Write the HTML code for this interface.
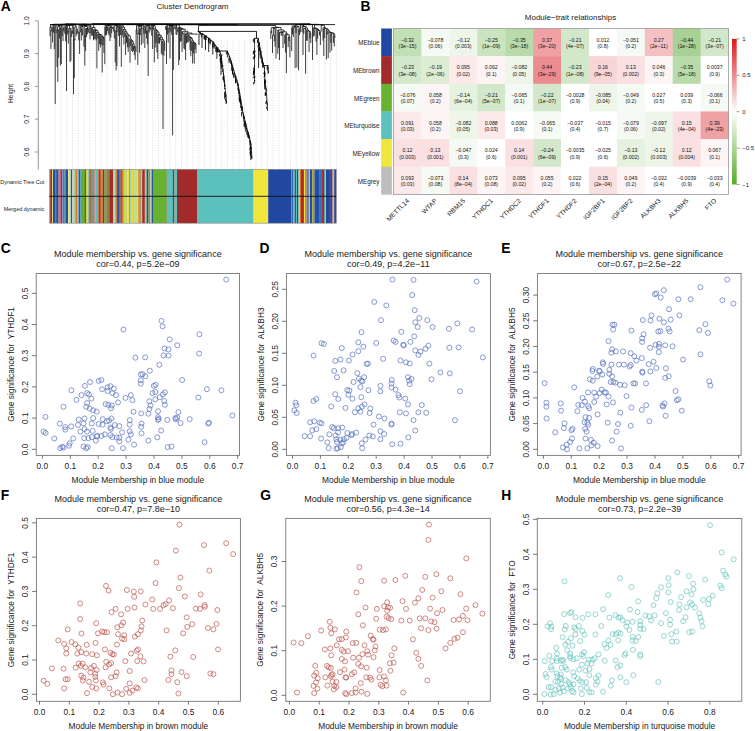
<!DOCTYPE html>
<html><head><meta charset="utf-8"><style>
html,body{margin:0;padding:0;background:#fff;}
svg{display:block;}
</style></head><body>
<svg width="755" height="731" viewBox="0 0 755 731" font-family="Liberation Sans, sans-serif">
<rect width="755" height="731" fill="#fff"/>
<text x="0.80" y="10.90" font-size="13.8" text-anchor="start" font-weight="bold" fill="#000">A</text>
<text x="360.50" y="11.00" font-size="13.8" text-anchor="start" font-weight="bold" fill="#000">B</text>
<text x="192.50" y="9.00" font-size="8" text-anchor="middle" fill="#222">Cluster Dendrogram</text>
<line x1="38.3" y1="20.8" x2="38.3" y2="169.5" stroke="#666" stroke-width="0.7"/>
<line x1="34.8" y1="20.80" x2="38.3" y2="20.80" stroke="#777" stroke-width="0.7"/>
<text x="29.20" y="20.80" font-size="6.6" text-anchor="middle" fill="#222" transform="rotate(-90 29.20 20.80)">1.0</text>
<line x1="34.8" y1="53.60" x2="38.3" y2="53.60" stroke="#777" stroke-width="0.7"/>
<text x="29.20" y="53.60" font-size="6.6" text-anchor="middle" fill="#222" transform="rotate(-90 29.20 53.60)">0.9</text>
<line x1="34.8" y1="86.40" x2="38.3" y2="86.40" stroke="#777" stroke-width="0.7"/>
<text x="29.20" y="86.40" font-size="6.6" text-anchor="middle" fill="#222" transform="rotate(-90 29.20 86.40)">0.8</text>
<line x1="34.8" y1="119.20" x2="38.3" y2="119.20" stroke="#777" stroke-width="0.7"/>
<text x="29.20" y="119.20" font-size="6.6" text-anchor="middle" fill="#222" transform="rotate(-90 29.20 119.20)">0.7</text>
<line x1="34.8" y1="152.00" x2="38.3" y2="152.00" stroke="#777" stroke-width="0.7"/>
<text x="29.20" y="152.00" font-size="6.6" text-anchor="middle" fill="#222" transform="rotate(-90 29.20 152.00)">0.6</text>
<text x="13.50" y="93.40" font-size="6.6" text-anchor="middle" fill="#222" transform="rotate(-90 13.50 93.40)">Height</text>
<line x1="55.30" y1="40" x2="55.30" y2="169" stroke="#c4c4c4" stroke-width="0.5" stroke-dasharray="1.3,1.2"/>
<line x1="61.03" y1="40" x2="61.03" y2="169" stroke="#c4c4c4" stroke-width="0.5" stroke-dasharray="1.3,1.2"/>
<line x1="66.77" y1="40" x2="66.77" y2="169" stroke="#c4c4c4" stroke-width="0.5" stroke-dasharray="1.3,1.2"/>
<line x1="72.50" y1="40" x2="72.50" y2="169" stroke="#c4c4c4" stroke-width="0.5" stroke-dasharray="1.3,1.2"/>
<line x1="78.24" y1="40" x2="78.24" y2="169" stroke="#c4c4c4" stroke-width="0.5" stroke-dasharray="1.3,1.2"/>
<line x1="83.97" y1="40" x2="83.97" y2="169" stroke="#c4c4c4" stroke-width="0.5" stroke-dasharray="1.3,1.2"/>
<line x1="89.71" y1="40" x2="89.71" y2="169" stroke="#c4c4c4" stroke-width="0.5" stroke-dasharray="1.3,1.2"/>
<line x1="95.44" y1="40" x2="95.44" y2="169" stroke="#c4c4c4" stroke-width="0.5" stroke-dasharray="1.3,1.2"/>
<line x1="101.18" y1="40" x2="101.18" y2="169" stroke="#c4c4c4" stroke-width="0.5" stroke-dasharray="1.3,1.2"/>
<line x1="106.91" y1="40" x2="106.91" y2="169" stroke="#c4c4c4" stroke-width="0.5" stroke-dasharray="1.3,1.2"/>
<line x1="112.65" y1="40" x2="112.65" y2="169" stroke="#c4c4c4" stroke-width="0.5" stroke-dasharray="1.3,1.2"/>
<line x1="118.38" y1="40" x2="118.38" y2="169" stroke="#c4c4c4" stroke-width="0.5" stroke-dasharray="1.3,1.2"/>
<line x1="124.12" y1="40" x2="124.12" y2="169" stroke="#c4c4c4" stroke-width="0.5" stroke-dasharray="1.3,1.2"/>
<line x1="129.86" y1="40" x2="129.86" y2="169" stroke="#c4c4c4" stroke-width="0.5" stroke-dasharray="1.3,1.2"/>
<line x1="135.59" y1="40" x2="135.59" y2="169" stroke="#c4c4c4" stroke-width="0.5" stroke-dasharray="1.3,1.2"/>
<line x1="141.32" y1="40" x2="141.32" y2="169" stroke="#c4c4c4" stroke-width="0.5" stroke-dasharray="1.3,1.2"/>
<line x1="147.06" y1="40" x2="147.06" y2="169" stroke="#c4c4c4" stroke-width="0.5" stroke-dasharray="1.3,1.2"/>
<line x1="152.80" y1="40" x2="152.80" y2="169" stroke="#c4c4c4" stroke-width="0.5" stroke-dasharray="1.3,1.2"/>
<line x1="158.53" y1="40" x2="158.53" y2="169" stroke="#c4c4c4" stroke-width="0.5" stroke-dasharray="1.3,1.2"/>
<line x1="164.26" y1="40" x2="164.26" y2="169" stroke="#c4c4c4" stroke-width="0.5" stroke-dasharray="1.3,1.2"/>
<line x1="170.00" y1="40" x2="170.00" y2="169" stroke="#c4c4c4" stroke-width="0.5" stroke-dasharray="1.3,1.2"/>
<line x1="175.74" y1="40" x2="175.74" y2="169" stroke="#c4c4c4" stroke-width="0.5" stroke-dasharray="1.3,1.2"/>
<line x1="181.47" y1="40" x2="181.47" y2="169" stroke="#c4c4c4" stroke-width="0.5" stroke-dasharray="1.3,1.2"/>
<line x1="187.20" y1="40" x2="187.20" y2="169" stroke="#c4c4c4" stroke-width="0.5" stroke-dasharray="1.3,1.2"/>
<line x1="192.94" y1="40" x2="192.94" y2="169" stroke="#c4c4c4" stroke-width="0.5" stroke-dasharray="1.3,1.2"/>
<line x1="198.68" y1="40" x2="198.68" y2="169" stroke="#c4c4c4" stroke-width="0.5" stroke-dasharray="1.3,1.2"/>
<line x1="204.41" y1="40" x2="204.41" y2="169" stroke="#c4c4c4" stroke-width="0.5" stroke-dasharray="1.3,1.2"/>
<line x1="210.14" y1="40" x2="210.14" y2="169" stroke="#c4c4c4" stroke-width="0.5" stroke-dasharray="1.3,1.2"/>
<line x1="215.88" y1="40" x2="215.88" y2="169" stroke="#c4c4c4" stroke-width="0.5" stroke-dasharray="1.3,1.2"/>
<line x1="221.62" y1="40" x2="221.62" y2="169" stroke="#c4c4c4" stroke-width="0.5" stroke-dasharray="1.3,1.2"/>
<line x1="227.35" y1="40" x2="227.35" y2="169" stroke="#c4c4c4" stroke-width="0.5" stroke-dasharray="1.3,1.2"/>
<line x1="233.08" y1="40" x2="233.08" y2="169" stroke="#c4c4c4" stroke-width="0.5" stroke-dasharray="1.3,1.2"/>
<line x1="238.82" y1="40" x2="238.82" y2="169" stroke="#c4c4c4" stroke-width="0.5" stroke-dasharray="1.3,1.2"/>
<line x1="244.56" y1="40" x2="244.56" y2="169" stroke="#c4c4c4" stroke-width="0.5" stroke-dasharray="1.3,1.2"/>
<line x1="250.29" y1="40" x2="250.29" y2="169" stroke="#c4c4c4" stroke-width="0.5" stroke-dasharray="1.3,1.2"/>
<line x1="256.03" y1="40" x2="256.03" y2="169" stroke="#c4c4c4" stroke-width="0.5" stroke-dasharray="1.3,1.2"/>
<line x1="261.76" y1="40" x2="261.76" y2="169" stroke="#c4c4c4" stroke-width="0.5" stroke-dasharray="1.3,1.2"/>
<line x1="267.50" y1="40" x2="267.50" y2="169" stroke="#c4c4c4" stroke-width="0.5" stroke-dasharray="1.3,1.2"/>
<line x1="273.23" y1="40" x2="273.23" y2="169" stroke="#c4c4c4" stroke-width="0.5" stroke-dasharray="1.3,1.2"/>
<line x1="278.97" y1="40" x2="278.97" y2="169" stroke="#c4c4c4" stroke-width="0.5" stroke-dasharray="1.3,1.2"/>
<line x1="284.70" y1="40" x2="284.70" y2="169" stroke="#c4c4c4" stroke-width="0.5" stroke-dasharray="1.3,1.2"/>
<line x1="290.44" y1="40" x2="290.44" y2="169" stroke="#c4c4c4" stroke-width="0.5" stroke-dasharray="1.3,1.2"/>
<line x1="296.17" y1="40" x2="296.17" y2="169" stroke="#c4c4c4" stroke-width="0.5" stroke-dasharray="1.3,1.2"/>
<line x1="301.91" y1="40" x2="301.91" y2="169" stroke="#c4c4c4" stroke-width="0.5" stroke-dasharray="1.3,1.2"/>
<line x1="307.64" y1="40" x2="307.64" y2="169" stroke="#c4c4c4" stroke-width="0.5" stroke-dasharray="1.3,1.2"/>
<line x1="313.38" y1="40" x2="313.38" y2="169" stroke="#c4c4c4" stroke-width="0.5" stroke-dasharray="1.3,1.2"/>
<line x1="319.11" y1="40" x2="319.11" y2="169" stroke="#c4c4c4" stroke-width="0.5" stroke-dasharray="1.3,1.2"/>
<line x1="324.85" y1="40" x2="324.85" y2="169" stroke="#c4c4c4" stroke-width="0.5" stroke-dasharray="1.3,1.2"/>
<line x1="330.58" y1="40" x2="330.58" y2="169" stroke="#c4c4c4" stroke-width="0.5" stroke-dasharray="1.3,1.2"/>
<line x1="336.32" y1="40" x2="336.32" y2="169" stroke="#c4c4c4" stroke-width="0.5" stroke-dasharray="1.3,1.2"/>
<path d="M50.9 30.4L51.7 30.4M50.9 30.4L50.9 49.0M51.7 30.4L51.7 31.4M50.0 27.0L51.3 27.0M50.0 27.0L50.0 36.0M51.3 27.0L51.3 30.4M52.6 27.2L53.5 27.2M52.6 27.2L52.6 42.5M53.5 27.2L53.5 32.7M53.0 25.3L54.3 25.3M53.0 25.3L53.0 27.2M54.3 25.3L54.3 49.2M50.7 24.7L53.7 24.7M50.7 24.7L50.7 27.0M53.7 24.7L53.7 25.3M52.2 24.6L55.2 24.6M52.2 24.6L52.2 24.7M55.2 24.6L55.2 104.0M57.8 29.9L58.7 29.9M57.8 29.9L57.8 82.0M58.7 29.9L58.7 57.8M57.0 29.9L58.3 29.9M57.0 29.9L57.0 66.9M58.3 29.9L58.3 29.9M59.6 27.7L60.4 27.7M59.6 27.7L59.6 38.5M60.4 27.7L60.4 65.6M57.6 26.7L60.0 26.7M57.6 26.7L57.6 29.9M60.0 26.7L60.0 27.7M58.8 25.7L61.3 25.7M58.8 25.7L58.8 26.7M61.3 25.7L61.3 64.0M56.1 25.2L60.1 25.2M56.1 25.2L56.1 33.1M60.1 25.2L60.1 25.7M58.1 25.0L62.2 25.0M58.1 25.0L58.1 25.2M62.2 25.0L62.2 36.2M63.0 29.1L63.9 29.1M63.0 29.1L63.0 41.2M63.9 29.1L63.9 31.3M63.5 27.8L64.8 27.8M63.5 27.8L63.5 29.1M64.8 27.8L64.8 33.9M60.1 24.8L64.1 24.8M60.1 24.8L60.1 25.0M64.1 24.8L64.1 27.8M65.6 24.9L66.5 24.9M65.6 24.9L65.6 41.2M66.5 24.9L66.5 91.0M68.3 31.5L69.1 31.5M68.3 31.5L68.3 43.7M69.1 31.5L69.1 32.5M70.0 28.9L70.9 28.9M70.0 28.9L70.0 62.1M70.9 28.9L70.9 60.8M68.7 28.6L70.4 28.6M68.7 28.6L68.7 31.5M70.4 28.6L70.4 28.9M67.4 25.4L69.6 25.4M67.4 25.4L67.4 34.5M69.6 25.4L69.6 28.6M71.7 31.2L72.6 31.2M71.7 31.2L71.7 36.9M72.6 31.2L72.6 33.9M72.2 26.9L73.5 26.9M72.2 26.9L72.2 31.2M73.5 26.9L73.5 94.3M68.5 25.1L72.8 25.1M68.5 25.1L68.5 25.4M72.8 25.1L72.8 26.9M74.3 39.2L75.2 39.2M74.3 39.2L74.3 78.1M75.2 39.2L75.2 40.3M76.9 31.1L77.8 31.1M76.9 31.1L76.9 34.4M77.8 31.1L77.8 33.5M76.1 29.3L77.4 29.3M76.1 29.3L76.1 36.4M77.4 29.3L77.4 31.1M74.8 26.8L76.7 26.8M74.8 26.8L74.8 39.2M76.7 26.8L76.7 29.3M70.6 25.1L75.8 25.1M70.6 25.1L70.6 25.1M75.8 25.1L75.8 26.8M66.1 24.9L73.2 24.9M66.1 24.9L66.1 24.9M73.2 24.9L73.2 25.1M62.1 24.3L69.6 24.3M62.1 24.3L62.1 24.8M69.6 24.3L69.6 24.9M78.7 32.3L79.6 32.3M78.7 32.3L78.7 40.3M79.6 32.3L79.6 54.0M81.3 29.6L82.2 29.6M81.3 29.6L81.3 40.4M82.2 29.6L82.2 35.3M81.7 26.5L83.0 26.5M81.7 26.5L81.7 29.6M83.0 26.5L83.0 35.7M80.4 25.7L82.4 25.7M80.4 25.7L80.4 32.3M82.4 25.7L82.4 26.5M83.9 35.9L84.8 35.9M83.9 35.9L83.9 46.6M84.8 35.9L84.8 65.6M85.6 28.6L86.5 28.6M85.6 28.6L85.6 50.9M86.5 28.6L86.5 37.1M86.1 28.5L87.4 28.5M86.1 28.5L86.1 28.6M87.4 28.5L87.4 34.3M86.7 28.4L88.2 28.4M86.7 28.4L86.7 28.5M88.2 28.4L88.2 32.5M84.3 26.5L87.5 26.5M84.3 26.5L84.3 35.9M87.5 26.5L87.5 28.4M81.4 25.7L85.9 25.7M81.4 25.7L81.4 25.7M85.9 25.7L85.9 26.5M83.7 25.6L89.1 25.6M83.7 25.6L83.7 25.7M89.1 25.6L89.1 33.1M79.1 25.1L86.4 25.1M79.1 25.1L79.1 32.3M86.4 25.1L86.4 25.6M90.0 25.4L90.9 25.4M90.0 25.4L90.0 39.4M90.9 25.4L90.9 33.6M82.8 24.4L90.4 24.4M82.8 24.4L82.8 25.1M90.4 24.4L90.4 25.4M65.9 24.2L86.6 24.2M65.9 24.2L65.9 24.3M86.6 24.2L86.6 24.4M53.7 24.2L76.2 24.2M53.7 24.2L53.7 24.6M76.2 24.2L76.2 24.2M91.7 27.8L92.6 27.8M91.7 27.8L91.7 36.0M92.6 27.8L92.6 35.5M95.2 32.0L96.1 32.0M95.2 32.0L95.2 39.1M96.1 32.0L96.1 40.3M94.3 30.8L95.6 30.8M94.3 30.8L94.3 39.3M95.6 30.8L95.6 32.0M99.6 36.1L100.4 36.1M99.6 36.1L99.6 44.2M100.4 36.1L100.4 47.5M103.0 38.0L103.9 38.0M103.0 38.0L103.0 45.2M103.9 38.0L103.9 52.9M102.2 36.8L103.5 36.8M102.2 36.8L102.2 72.5M103.5 36.8L103.5 38.0M101.3 36.3L102.8 36.3M101.3 36.3L101.3 44.8M102.8 36.3L102.8 36.8M100.0 34.8L102.0 34.8M100.0 34.8L100.0 36.1M102.0 34.8L102.0 36.3M98.7 34.6L101.0 34.6M98.7 34.6L98.7 50.8M101.0 34.6L101.0 34.8M97.8 34.1L99.8 34.1M97.8 34.1L97.8 38.5M99.8 34.1L99.8 34.6M96.9 32.4L98.8 32.4M96.9 32.4L96.9 68.4M98.8 32.4L98.8 34.1M95.0 30.6L97.9 30.6M95.0 30.6L95.0 30.8M97.9 30.6L97.9 32.4M93.5 29.7L96.4 29.7M93.5 29.7L93.5 40.3M96.4 29.7L96.4 30.6M92.2 27.4L95.0 27.4M92.2 27.4L92.2 27.8M95.0 27.4L95.0 29.7M104.8 27.1L105.6 27.1M104.8 27.1L104.8 64.2M105.6 27.1L105.6 35.4M107.4 27.3L108.2 27.3M107.4 27.3L107.4 31.0M108.2 27.3L108.2 33.6M109.1 29.2L110.0 29.2M109.1 29.2L109.1 35.5M110.0 29.2L110.0 41.0M109.5 27.5L110.9 27.5M109.5 27.5L109.5 29.2M110.9 27.5L110.9 37.6M111.7 27.2L112.6 27.2M111.7 27.2L111.7 33.1M112.6 27.2L112.6 28.8M110.2 27.0L112.2 27.0M110.2 27.0L110.2 27.5M112.2 27.0L112.2 27.2M107.8 25.9L111.2 25.9M107.8 25.9L107.8 27.3M111.2 25.9L111.2 27.0M106.5 25.2L109.5 25.2M106.5 25.2L106.5 35.2M109.5 25.2L109.5 25.9M114.3 30.4L115.2 30.4M114.3 30.4L114.3 38.5M115.2 30.4L115.2 62.5M113.5 27.3L114.8 27.3M113.5 27.3L113.5 31.4M114.8 27.3L114.8 30.4M116.1 31.0L116.9 31.0M116.1 31.0L116.1 70.5M116.9 31.0L116.9 66.2M116.5 26.6L117.8 26.6M116.5 26.6L116.5 31.0M117.8 26.6L117.8 31.9M117.2 26.6L118.7 26.6M117.2 26.6L117.2 26.6M118.7 26.6L118.7 36.0M114.1 25.8L117.9 25.8M114.1 25.8L114.1 27.3M117.9 25.8L117.9 26.6M116.0 25.2L119.5 25.2M116.0 25.2L116.0 25.8M119.5 25.2L119.5 46.5M108.0 24.9L117.8 24.9M108.0 24.9L108.0 25.2M117.8 24.9L117.8 25.2M105.2 24.9L112.9 24.9M105.2 24.9L105.2 27.1M112.9 24.9L112.9 24.9M123.0 29.7L123.9 29.7M123.0 29.7L123.0 37.5M123.9 29.7L123.9 44.6M127.4 37.2L128.2 37.2M127.4 37.2L127.4 47.3M128.2 37.2L128.2 51.9M130.0 41.2L130.8 41.2M130.0 41.2L130.0 62.6M130.8 41.2L130.8 45.8M134.3 46.8L135.2 46.8M134.3 46.8L134.3 55.1M135.2 46.8L135.2 59.8M133.5 46.5L134.8 46.5M133.5 46.5L133.5 50.7M134.8 46.5L134.8 46.8M132.6 43.8L134.1 43.8M132.6 43.8L132.6 52.0M134.1 43.8L134.1 46.5M131.7 41.3L133.3 41.3M131.7 41.3L131.7 51.0M133.3 41.3L133.3 43.8M130.4 40.4L132.5 40.4M130.4 40.4L130.4 41.2M132.5 40.4L132.5 41.3M129.1 39.2L131.5 39.2M129.1 39.2L129.1 47.3M131.5 39.2L131.5 40.4M127.8 35.8L130.3 35.8M127.8 35.8L127.8 37.2M130.3 35.8L130.3 39.2M126.5 34.9L129.0 34.9M126.5 34.9L126.5 43.0M129.0 34.9L129.0 35.8M125.6 33.1L127.8 33.1M125.6 33.1L125.6 55.0M127.8 33.1L127.8 34.9M124.8 31.4L126.7 31.4M124.8 31.4L124.8 36.8M126.7 31.4L126.7 33.1M123.5 29.4L125.7 29.4M123.5 29.4L123.5 29.7M125.7 29.4L125.7 31.4M122.2 27.3L124.6 27.3M122.2 27.3L122.2 35.1M124.6 27.3L124.6 29.4M121.3 25.8L123.4 25.8M121.3 25.8L121.3 66.9M123.4 25.8L123.4 27.3M136.1 29.8L136.9 29.8M136.1 29.8L136.1 52.0M136.9 29.8L136.9 34.3M137.8 33.3L138.7 33.3M137.8 33.3L137.8 64.9M138.7 33.3L138.7 34.3M139.5 28.6L140.4 28.6M139.5 28.6L139.5 52.7M140.4 28.6L140.4 35.2M138.2 26.1L140.0 26.1M138.2 26.1L138.2 33.3M140.0 26.1L140.0 28.6M141.3 27.9L142.1 27.9M141.3 27.9L141.3 45.0M142.1 27.9L142.1 29.1M139.1 25.9L141.7 25.9M139.1 25.9L139.1 26.1M141.7 25.9L141.7 27.9M143.0 28.9L143.9 28.9M143.0 28.9L143.0 43.4M143.9 28.9L143.9 34.2M143.4 26.4L144.8 26.4M143.4 26.4L143.4 28.9M144.8 26.4L144.8 48.0M140.4 25.7L144.1 25.7M140.4 25.7L140.4 25.9M144.1 25.7L144.1 26.4M136.5 25.6L142.3 25.6M136.5 25.6L136.5 29.8M142.3 25.6L142.3 25.7M122.3 24.6L139.4 24.6M122.3 24.6L122.3 25.8M139.4 24.6L139.4 25.6M120.4 24.5L130.9 24.5M120.4 24.5L120.4 35.0M130.9 24.5L130.9 24.6M109.0 24.5L125.6 24.5M109.0 24.5L109.0 24.9M125.6 24.5L125.6 24.5M146.5 31.0L147.4 31.0M146.5 31.0L146.5 38.5M147.4 31.0L147.4 44.3M149.1 28.3L150.0 28.3M149.1 28.3L149.1 32.8M150.0 28.3L150.0 31.3M149.5 27.7L150.8 27.7M149.5 27.7L149.5 28.3M150.8 27.7L150.8 29.2M148.2 26.8L150.2 26.8M148.2 26.8L148.2 76.0M150.2 26.8L150.2 27.7M146.9 25.8L149.2 25.8M146.9 25.8L146.9 31.0M149.2 25.8L149.2 26.8M145.6 25.4L148.1 25.4M145.6 25.4L145.6 33.5M148.1 25.4L148.1 25.8M146.8 25.2L151.7 25.2M146.8 25.2L146.8 25.4M151.7 25.2L151.7 35.7M159.5 37.4L160.4 37.4M159.5 37.4L159.5 43.8M160.4 37.4L160.4 40.5M162.1 42.0L163.0 42.0M162.1 42.0L162.1 55.0M163.0 42.0L163.0 129.0M163.9 43.3L164.7 43.3M163.9 43.3L163.9 55.7M164.7 43.3L164.7 50.8M162.6 41.0L164.3 41.0M162.6 41.0L162.6 42.0M164.3 41.0L164.3 43.3M161.3 39.4L163.4 39.4M161.3 39.4L161.3 53.5M163.4 39.4L163.4 41.0M160.0 37.1L162.4 37.1M160.0 37.1L160.0 37.4M162.4 37.1L162.4 39.4M158.7 35.3L161.2 35.3M158.7 35.3L158.7 43.0M161.2 35.3L161.2 37.1M157.8 34.3L159.9 34.3M157.8 34.3L157.8 59.0M159.9 34.3L159.9 35.3M156.9 32.0L158.9 32.0M156.9 32.0L156.9 52.3M158.9 32.0L158.9 34.3M156.1 30.6L157.9 30.6M156.1 30.6L156.1 43.1M157.9 30.6L157.9 32.0M155.2 30.2L157.0 30.2M155.2 30.2L155.2 47.6M157.0 30.2L157.0 30.6M154.3 28.8L156.1 28.8M154.3 28.8L154.3 62.4M156.1 28.8L156.1 30.2M153.4 25.6L155.2 25.6M153.4 25.6L153.4 29.8M155.2 25.6L155.2 28.8M152.6 25.0L154.3 25.0M152.6 25.0L152.6 49.0M154.3 25.0L154.3 25.6M149.3 24.8L153.4 24.8M149.3 24.8L149.3 25.2M153.4 24.8L153.4 25.0M165.6 26.6L166.5 26.6M165.6 26.6L165.6 29.9M166.5 26.6L166.5 64.0M167.4 27.8L168.2 27.8M167.4 27.8L167.4 34.6M168.2 27.8L168.2 42.6M166.1 26.2L167.8 26.2M166.1 26.2L166.1 26.6M167.8 26.2L167.8 27.8M169.1 28.3L170.0 28.3M169.1 28.3L169.1 32.8M170.0 28.3L170.0 58.4M170.8 26.1L171.7 26.1M170.8 26.1L170.8 31.6M171.7 26.1L171.7 34.7M171.3 25.8L172.6 25.8M171.3 25.8L171.3 26.1M172.6 25.8L172.6 135.4M169.5 25.7L171.9 25.7M169.5 25.7L169.5 28.3M171.9 25.7L171.9 25.8M173.4 27.5L174.3 27.5M173.4 27.5L173.4 69.9M174.3 27.5L174.3 28.5M170.7 25.4L173.9 25.4M170.7 25.4L170.7 25.7M173.9 25.4L173.9 27.5M166.9 25.3L172.3 25.3M166.9 25.3L166.9 26.2M172.3 25.3L172.3 25.4M169.6 25.0L175.2 25.0M169.6 25.0L169.6 25.3M175.2 25.0L175.2 29.7M176.0 26.8L176.9 26.8M176.0 26.8L176.0 34.7M176.9 26.8L176.9 35.1M177.8 28.3L178.7 28.3M177.8 28.3L177.8 32.2M178.7 28.3L178.7 65.0M182.1 32.6L183.0 32.6M182.1 32.6L182.1 52.0M183.0 32.6L183.0 34.4M185.6 35.7L186.5 35.7M185.6 35.7L185.6 60.0M186.5 35.7L186.5 43.5M184.7 34.5L186.0 34.5M184.7 34.5L184.7 49.6M186.0 34.5L186.0 35.7M194.3 43.9L195.2 43.9M194.3 43.9L194.3 63.5M195.2 43.9L195.2 49.3M194.7 43.8L196.0 43.8M194.7 43.8L194.7 43.9M196.0 43.8L196.0 53.2M193.4 42.9L195.4 42.9M193.4 42.9L193.4 53.5M195.4 42.9L195.4 43.8M192.6 42.4L194.4 42.4M192.6 42.4L192.6 63.5M194.4 42.4L194.4 42.9M191.7 40.9L193.5 40.9M191.7 40.9L191.7 51.1M193.5 40.9L193.5 42.4M190.8 38.7L192.6 38.7M190.8 38.7L190.8 56.2M192.6 38.7L192.6 40.9M190.0 37.6L191.7 37.6M190.0 37.6L190.0 50.0M191.7 37.6L191.7 38.7M189.1 37.4L190.8 37.4M189.1 37.4L189.1 40.9M190.8 37.4L190.8 37.6M188.2 36.0L190.0 36.0M188.2 36.0L188.2 42.5M190.0 36.0L190.0 37.4M187.3 35.9L189.1 35.9M187.3 35.9L187.3 42.2M189.1 35.9L189.1 36.0M185.4 34.3L188.2 34.3M185.4 34.3L185.4 34.5M188.2 34.3L188.2 35.9M186.8 34.0L196.9 34.0M186.8 34.0L186.8 34.3M196.9 34.0L196.9 35.0M183.9 33.0L191.9 33.0M183.9 33.0L183.9 48.4M191.9 33.0L191.9 34.0M182.6 31.3L187.9 31.3M182.6 31.3L182.6 32.6M187.9 31.3L187.9 33.0M181.3 29.2L185.2 29.2M181.3 29.2L181.3 40.9M185.2 29.2L185.2 31.3M180.4 28.6L183.2 28.6M180.4 28.6L180.4 41.8M183.2 28.6L183.2 29.2M179.5 28.1L181.8 28.1M179.5 28.1L179.5 60.1M181.8 28.1L181.8 28.6M178.2 27.6L180.7 27.6M178.2 27.6L178.2 28.3M180.7 27.6L180.7 28.1M176.5 24.9L179.4 24.9M176.5 24.9L176.5 26.8M179.4 24.9L179.4 27.6M270.8 31.1L271.7 31.1M270.8 31.1L270.8 39.0M271.7 31.1L271.7 33.7M272.5 35.0L274.3 35.0M272.5 35.0L272.5 53.0M274.3 35.0L274.3 41.3M273.4 28.6L275.1 28.6M273.4 28.6L273.4 35.0M275.1 28.6L275.1 46.7M271.2 27.8L274.3 27.8M271.2 27.8L271.2 31.1M274.3 27.8L274.3 28.6M277.8 30.2L278.6 30.2M277.8 30.2L277.8 53.8M278.6 30.2L278.6 48.1M279.5 32.2L281.2 32.2M279.5 32.2L279.5 60.0M281.2 32.2L281.2 35.8M282.1 32.2L283.0 32.2M282.1 32.2L282.1 35.6M283.0 32.2L283.0 48.0M280.4 32.0L282.5 32.0M280.4 32.0L280.4 32.2M282.5 32.0L282.5 32.2M284.7 35.2L285.6 35.2M284.7 35.2L284.7 43.9M285.6 35.2L285.6 52.6M288.2 37.4L289.1 37.4M288.2 37.4L288.2 47.2M289.1 37.4L289.1 41.1M288.6 36.9L289.9 36.9M288.6 36.9L288.6 37.4M289.9 36.9L289.9 57.4M286.4 34.8L289.3 34.8M286.4 34.8L286.4 73.0M289.3 34.8L289.3 36.9M285.1 33.9L287.9 33.9M285.1 33.9L285.1 35.2M287.9 33.9L287.9 34.8M281.5 31.8L286.5 31.8M281.5 31.8L281.5 32.0M286.5 31.8L286.5 33.9M278.2 30.0L284.0 30.0M278.2 30.0L278.2 30.2M284.0 30.0L284.0 31.8M276.0 27.5L281.1 27.5M276.0 27.5L276.0 58.5M281.1 27.5L281.1 30.0M272.8 27.3L278.6 27.3M272.8 27.3L272.8 27.8M278.6 27.3L278.6 27.5M198.5 25.5L275.7 25.5M198.5 25.5L198.5 31.4M275.7 25.5L275.7 27.3M178.0 24.6L237.1 24.6M178.0 24.6L178.0 24.9M237.1 24.6L237.1 25.5M172.4 24.6L207.5 24.6M172.4 24.6L172.4 25.0M207.5 24.6L207.5 24.6M151.4 24.4L190.0 24.4M151.4 24.4L151.4 24.8M190.0 24.4L190.0 24.6M117.3 24.3L170.7 24.3M117.3 24.3L117.3 24.5M170.7 24.3L170.7 24.4M93.6 24.3L144.0 24.3M93.6 24.3L93.6 27.4M144.0 24.3L144.0 24.3M65.0 24.0L118.8 24.0M65.0 24.0L65.0 24.2M118.8 24.0L118.8 24.3M291.7 28.2L292.5 28.2M291.7 28.2L291.7 51.1M292.5 28.2L292.5 34.4M293.4 27.4L295.1 27.4M293.4 27.4L293.4 36.9M295.1 27.4L295.1 68.0M294.3 26.8L296.0 26.8M294.3 26.8L294.3 27.4M296.0 26.8L296.0 33.0M292.1 26.0L295.1 26.0M292.1 26.0L292.1 28.2M295.1 26.0L295.1 26.8M298.6 29.2L299.5 29.2M298.6 29.2L298.6 70.4M299.5 29.2L299.5 35.1M296.9 26.6L299.1 26.6M296.9 26.6L296.9 67.6M299.1 26.6L299.1 29.2M293.6 26.0L298.0 26.0M293.6 26.0L293.6 26.0M298.0 26.0L298.0 26.6M303.8 28.4L305.6 28.4M303.8 28.4L303.8 33.9M305.6 28.4L305.6 73.8M309.9 33.3L310.8 33.3M309.9 33.3L309.9 38.2M310.8 33.3L310.8 43.2M309.1 31.6L310.4 31.6M309.1 31.6L309.1 52.0M310.4 31.6L310.4 33.3M307.3 31.0L309.7 31.0M307.3 31.0L307.3 40.7M309.7 31.0L309.7 31.6M306.4 30.0L308.5 30.0M306.4 30.0L306.4 40.7M308.5 30.0L308.5 31.0M304.7 28.0L307.5 28.0M304.7 28.0L304.7 28.4M307.5 28.0L307.5 30.0M303.0 26.5L306.1 26.5M303.0 26.5L303.0 55.0M306.1 26.5L306.1 28.0M302.1 26.1L304.5 26.1M302.1 26.1L302.1 32.1M304.5 26.1L304.5 26.5M300.4 24.8L303.3 24.8M300.4 24.8L300.4 32.5M303.3 24.8L303.3 26.1M301.8 24.6L312.5 24.6M301.8 24.6L301.8 24.8M312.5 24.6L312.5 60.0M295.8 24.5L307.2 24.5M295.8 24.5L295.8 26.0M307.2 24.5L307.2 24.6M319.5 31.9L320.4 31.9M319.5 31.9L319.5 35.4M320.4 31.9L320.4 45.0M317.7 30.5L319.9 30.5M317.7 30.5L317.7 38.6M319.9 30.5L319.9 31.9M316.9 29.6L318.8 29.6M316.9 29.6L316.9 55.0M318.8 29.6L318.8 30.5M316.0 28.7L317.9 28.7M316.0 28.7L316.0 41.7M317.9 28.7L317.9 29.6M314.3 28.4L316.9 28.4M314.3 28.4L314.3 35.8M316.9 28.4L316.9 28.7M313.4 27.8L315.6 27.8M313.4 27.8L313.4 36.6M315.6 27.8L315.6 28.4M323.8 28.8L324.7 28.8M323.8 28.8L323.8 56.0M324.7 28.8L324.7 38.1M330.8 34.2L331.7 34.2M330.8 34.2L330.8 42.7M331.7 34.2L331.7 50.6M334.3 36.6L335.1 36.6M334.3 36.6L334.3 46.4M335.1 36.6L335.1 37.6M333.4 33.9L334.7 33.9M333.4 33.9L333.4 42.9M334.7 33.9L334.7 36.6M331.2 33.1L334.0 33.1M331.2 33.1L331.2 34.2M334.0 33.1L334.0 33.9M329.9 32.6L332.6 32.6M329.9 32.6L329.9 52.6M332.6 32.6L332.6 33.1M328.2 32.2L331.3 32.2M328.2 32.2L328.2 58.1M331.3 32.2L331.3 32.6M327.3 31.0L329.7 31.0M327.3 31.0L327.3 34.5M329.7 31.0L329.7 32.2M326.4 29.6L328.5 29.6M326.4 29.6L326.4 59.5M328.5 29.6L328.5 31.0M324.3 28.6L327.5 28.6M324.3 28.6L324.3 28.8M327.5 28.6L327.5 29.6M323.0 27.7L325.9 27.7M323.0 27.7L323.0 40.5M325.9 27.7L325.9 28.6M321.2 25.3L324.4 25.3M321.2 25.3L321.2 31.7M324.4 25.3L324.4 27.7M314.5 24.8L322.8 24.8M314.5 24.8L314.5 27.8M322.8 24.8L322.8 25.3M301.5 24.3L318.7 24.3M301.5 24.3L301.5 24.5M318.7 24.3L318.7 24.8M91.9 23.6L310.1 23.6M91.9 23.6L91.9 24.0M310.1 23.6L310.1 24.3" stroke="#000" stroke-width="0.75" fill="none"/><path d="M197.7 31.4L256.5 31.4M197.7 31.4L198.6 31.4M198.6 31.4L198.6 31.9M198.6 31.9L199.5 31.9M199.5 31.9L199.5 32.4M199.5 32.4L200.3 32.4M200.3 32.4L200.3 33.0M200.3 33.0L201.2 33.0M201.2 33.0L201.2 33.5M201.2 33.5L202.1 33.5M202.1 33.5L202.1 34.0M200.2 33.5L201.2 33.5M200.2 33.5L200.2 35.2M202.1 34.0L203.0 34.0M203.0 34.0L203.0 34.5M201.6 34.0L202.1 34.0M201.6 34.0L201.6 37.1M203.0 34.5L203.8 34.5M203.8 34.5L203.8 35.1M203.8 35.1L204.6 35.1M204.6 35.1L204.6 35.6M204.6 35.6L205.4 35.6M205.4 35.6L205.4 36.2M204.1 35.6L204.6 35.6M204.1 35.6L204.1 39.0M205.4 36.2L206.3 36.2M206.3 36.2L206.3 36.8M204.4 36.2L205.4 36.2M204.4 36.2L204.4 39.8M206.3 36.8L207.1 36.8M207.1 36.8L207.1 37.4M206.2 36.8L206.3 36.8M206.2 36.8L206.2 40.0M207.1 37.4L207.9 37.4M207.9 37.4L207.9 37.9M207.9 37.9L208.7 37.9M208.7 37.9L208.7 38.5M208.7 38.5L209.4 38.5M209.4 38.5L209.4 39.2M208.8 38.5L208.7 38.5M208.8 38.5L208.8 42.5M209.4 39.2L210.1 39.2M210.1 39.2L210.1 39.8M208.4 39.2L209.4 39.2M208.4 39.2L208.4 42.3M210.1 39.8L210.8 39.8M210.8 39.8L210.8 40.5M210.2 39.8L210.1 39.8M210.2 39.8L210.2 44.5M210.8 40.5L211.6 40.5M211.6 40.5L211.6 41.2M210.1 40.5L210.8 40.5M210.1 40.5L210.1 43.7M211.6 41.2L212.3 41.2M212.3 41.2L212.3 41.8M212.3 41.8L213.0 41.8M213.0 41.8L213.0 42.5M213.0 42.5L213.6 42.5M213.6 42.5L213.6 43.3M213.6 43.3L214.1 43.3M214.1 43.3L214.1 44.0M212.9 43.3L213.6 43.3M212.9 43.3L212.9 47.7M214.1 44.0L214.7 44.0M214.7 44.0L214.7 44.8M213.0 44.0L214.1 44.0M213.0 44.0L213.0 47.0M214.7 44.8L215.2 44.8M215.2 44.8L215.2 45.5M214.6 44.8L214.7 44.8M214.6 44.8L214.6 46.5M215.2 45.5L215.8 45.5M215.8 45.5L215.8 46.3M214.2 45.5L215.2 45.5M214.2 45.5L214.2 48.7M215.8 46.3L216.3 46.3M216.3 46.3L216.3 47.0M216.3 47.0L216.9 47.0M216.9 47.0L216.9 47.8M215.8 47.0L216.3 47.0M215.8 47.0L215.8 51.8M216.9 47.8L217.6 47.8M217.6 47.8L217.6 48.6M216.3 47.8L216.9 47.8M216.3 47.8L216.3 52.1M217.6 48.6L218.2 48.6M218.2 48.6L218.2 49.4M217.7 48.6L217.6 48.6M217.7 48.6L217.7 51.4M218.2 49.4L218.9 49.4M218.9 49.4L218.9 50.2M217.5 49.4L218.2 49.4M217.5 49.4L217.5 52.5M218.9 50.2L219.6 50.2M219.6 50.2L219.6 51.0M218.6 50.2L218.9 50.2M218.6 50.2L218.6 51.9M219.6 51.0L227.0 51.0M227.0 51.0L227.4 51.0M227.4 51.0L227.4 51.9M227.5 51.0L227.0 51.0M227.5 51.0L227.5 54.0M227.4 51.9L227.8 51.9M227.8 51.9L227.8 52.8M226.3 51.9L227.4 51.9M226.3 51.9L226.3 54.4M227.8 52.8L228.1 52.8M228.1 52.8L228.1 53.6M228.1 53.6L228.5 53.6M228.5 53.6L228.5 54.5M228.5 54.5L228.9 54.5M228.9 54.5L228.9 55.4M227.4 54.5L228.5 54.5M227.4 54.5L227.4 57.4M228.9 55.4L229.2 55.4M229.2 55.4L229.2 56.2M229.2 56.2L229.6 56.2M229.6 56.2L229.6 57.1M229.1 56.2L229.2 56.2M229.1 56.2L229.1 60.9M229.6 57.1L230.0 57.1M230.0 57.1L230.0 58.0M230.0 58.0L230.3 58.0M230.3 58.0L230.3 58.9M230.3 58.9L230.5 58.9M230.5 58.9L230.5 59.8M229.1 58.9L230.3 58.9M229.1 58.9L229.1 63.1M230.5 59.8L230.8 59.8M230.8 59.8L230.8 60.6M230.8 59.8L230.5 59.8M230.8 59.8L230.8 64.1M230.8 60.6L231.0 60.6M231.0 60.6L231.0 61.5M231.0 61.5L231.3 61.5M231.3 61.5L231.3 62.4M231.5 61.5L231.0 61.5M231.5 61.5L231.5 65.7M231.3 62.4L231.6 62.4M231.6 62.4L231.6 63.3M231.6 63.3L231.8 63.3M231.8 63.3L231.8 64.1M231.7 63.3L231.6 63.3M231.7 63.3L231.7 66.2M231.8 64.1L232.1 64.1M232.1 64.1L232.1 65.0M232.1 65.0L232.3 65.0M232.3 65.0L232.3 65.9M232.3 65.9L232.6 65.9M232.6 65.9L232.6 66.8M231.9 65.9L232.3 65.9M231.9 65.9L231.9 68.3M232.6 66.8L232.9 66.8M232.9 66.8L232.9 67.7M231.9 66.8L232.6 66.8M231.9 66.8L231.9 70.6M232.9 67.7L233.1 67.7M233.1 67.7L233.1 68.5M232.0 67.7L232.9 67.7M232.0 67.7L232.0 70.8M233.1 68.5L233.4 68.5M233.4 68.5L233.4 69.4M232.6 68.5L233.1 68.5M232.6 68.5L232.6 73.2M233.4 69.4L233.7 69.4M233.7 69.4L233.7 70.3M233.7 70.3L233.9 70.3M233.9 70.3L233.9 71.2M232.5 70.3L233.7 70.3M232.5 70.3L232.5 74.7M233.9 71.2L234.2 71.2M234.2 71.2L234.2 72.0M234.2 72.0L234.4 72.0M234.4 72.0L234.4 72.9M234.4 72.9L234.7 72.9M234.7 72.9L234.7 73.8M233.6 72.9L234.4 72.9M233.6 72.9L233.6 77.6M234.7 73.8L235.0 73.8M235.0 73.8L235.0 74.7M235.0 74.7L235.3 74.7M235.3 74.7L235.3 75.6M234.1 74.7L235.0 74.7M234.1 74.7L234.1 77.7M235.3 75.6L235.6 75.6M235.6 75.6L235.6 76.5M235.4 75.6L235.3 75.6M235.4 75.6L235.4 78.4M235.6 76.5L235.9 76.5M235.9 76.5L235.9 77.4M235.9 77.4L236.2 77.4M236.2 77.4L236.2 78.4M235.6 77.4L235.9 77.4M235.6 77.4L235.6 82.4M236.2 78.4L236.5 78.4M236.5 78.4L236.5 79.3M236.5 79.3L236.8 79.3M236.8 79.3L236.8 80.2M235.5 79.3L236.5 79.3M235.5 79.3L235.5 83.0M236.8 80.2L237.1 80.2M237.1 80.2L237.1 81.1M236.2 80.2L236.8 80.2M236.2 80.2L236.2 83.3M237.1 81.1L237.4 81.1M237.4 81.1L237.4 82.0M237.4 82.0L237.6 82.0M237.6 82.0L237.6 82.9M237.6 82.9L237.8 82.9M237.8 82.9L237.8 83.8M237.4 82.9L237.6 82.9M237.4 82.9L237.4 85.3M237.8 83.8L238.0 83.8M238.0 83.8L238.0 84.7M237.8 83.8L237.8 83.8M237.8 83.8L237.8 85.8M238.0 84.7L238.2 84.7M238.2 84.7L238.2 85.6M238.0 84.7L238.0 84.7M238.0 84.7L238.0 86.3M238.2 85.6L238.4 85.6M238.4 85.6L238.4 86.5M238.4 86.5L238.5 86.5M238.5 86.5L238.5 87.5M238.0 86.5L238.4 86.5M238.0 86.5L238.0 90.2M238.5 87.5L238.7 87.5M238.7 87.5L238.7 88.4M238.7 88.4L238.9 88.4M238.9 88.4L238.9 89.3M238.4 88.4L238.7 88.4M238.4 88.4L238.4 90.0M238.9 89.3L239.1 89.3M239.1 89.3L239.1 90.2M238.3 89.3L238.9 89.3M238.3 89.3L238.3 90.8M239.1 90.2L239.3 90.2M239.3 90.2L239.3 91.1M238.7 90.2L239.1 90.2M238.7 90.2L238.7 94.0M239.3 91.1L239.5 91.1M239.5 91.1L239.5 92.0M239.5 92.0L239.6 92.0M239.6 92.0L239.6 92.9M239.2 92.0L239.5 92.0M239.2 92.0L239.2 96.0M239.6 92.9L239.8 92.9M239.8 92.9L239.8 93.8M239.8 93.8L239.9 93.8M239.9 93.8L239.9 94.7M239.9 94.7L240.1 94.7M240.1 94.7L240.1 95.6M240.1 95.6L240.2 95.6M240.2 95.6L240.2 96.5M239.2 95.6L240.1 95.6M239.2 95.6L239.2 100.4M240.2 96.5L240.4 96.5M240.4 96.5L240.4 97.5M239.8 96.5L240.2 96.5M239.8 96.5L239.8 100.6M240.4 97.5L240.5 97.5M240.5 97.5L240.5 98.4M239.8 97.5L240.4 97.5M239.8 97.5L239.8 102.2M240.5 98.4L240.7 98.4M240.7 98.4L240.7 99.3M240.3 98.4L240.5 98.4M240.3 98.4L240.3 102.8M240.7 99.3L240.8 99.3M240.8 99.3L240.8 100.2M240.1 99.3L240.7 99.3M240.1 99.3L240.1 102.5M240.8 100.2L241.0 100.2M241.0 100.2L241.0 101.1M241.0 101.1L241.1 101.1M241.1 101.1L241.1 102.0M240.5 101.1L241.0 101.1M240.5 101.1L240.5 102.8M241.1 102.0L241.2 102.0M241.2 102.0L241.2 102.9M240.5 102.0L241.1 102.0M240.5 102.0L240.5 104.0M241.2 102.9L241.4 102.9M241.4 102.9L241.4 103.8M241.4 103.8L241.5 103.8M241.5 103.8L241.5 104.7M240.7 103.8L241.4 103.8M240.7 103.8L240.7 108.1M241.5 104.7L241.7 104.7M241.7 104.7L241.7 105.6M241.7 105.6L241.8 105.6M241.8 105.6L241.8 106.5M241.9 105.6L241.7 105.6M241.9 105.6L241.9 109.3M241.8 106.5L242.0 106.5M242.0 106.5L242.0 107.5M241.7 106.5L241.8 106.5M241.7 106.5L241.7 108.9M242.0 107.5L242.1 107.5M242.1 107.5L242.1 108.4M242.3 107.5L242.0 107.5M242.3 107.5L242.3 110.5M242.1 108.4L242.3 108.4M242.3 108.4L242.3 109.3M242.3 109.3L242.4 109.3M242.4 109.3L242.4 110.2M241.3 109.3L242.3 109.3M241.3 109.3L241.3 111.0M242.4 110.2L242.6 110.2M242.6 110.2L242.6 111.1M242.6 111.1L242.7 111.1M242.7 111.1L242.7 112.0M242.7 112.0L242.9 112.0M242.9 112.0L242.9 112.9M241.6 112.0L242.7 112.0M241.6 112.0L241.6 116.4M242.9 112.9L243.1 112.9M243.1 112.9L243.1 113.8M243.2 112.9L242.9 112.9M243.2 112.9L243.2 114.5M243.1 113.8L243.4 113.8M243.4 113.8L243.4 114.6M243.4 114.6L243.6 114.6M243.6 114.6L243.6 115.5M243.4 114.6L243.4 114.6M243.4 114.6L243.4 118.3M243.6 115.5L243.8 115.5M243.8 115.5L243.8 116.4M243.8 116.4L244.0 116.4M244.0 116.4L244.0 117.3M244.2 116.4L243.8 116.4M244.2 116.4L244.2 118.3M244.0 117.3L244.2 117.3M244.2 117.3L244.2 118.2M244.0 117.3L244.0 117.3M244.0 117.3L244.0 119.1M244.2 118.2L244.4 118.2M244.4 118.2L244.4 119.1M243.8 118.2L244.2 118.2M243.8 118.2L243.8 121.9M244.4 119.1L244.7 119.1M244.7 119.1L244.7 119.9M244.7 119.9L244.9 119.9M244.9 119.9L244.9 120.8M244.9 120.8L245.1 120.8M245.1 120.8L245.1 121.7M244.8 120.8L244.9 120.8M244.8 120.8L244.8 125.3M245.1 121.7L245.3 121.7M245.3 121.7L245.3 122.6M245.2 121.7L245.1 121.7M245.2 121.7L245.2 124.1M245.3 122.6L245.5 122.6M245.5 122.6L245.5 123.5M244.1 122.6L245.3 122.6M244.1 122.6L244.1 126.7M245.5 123.5L245.7 123.5M245.7 123.5L245.7 124.4M245.9 123.5L245.5 123.5M245.9 123.5L245.9 126.6M245.7 124.4L246.0 124.4M246.0 124.4L246.0 125.2M244.9 124.4L245.7 124.4M244.9 124.4L244.9 126.8M246.0 125.2L246.2 125.2M246.2 125.2L246.2 126.1M246.2 126.1L246.4 126.1M246.4 126.1L246.4 127.0M245.1 126.1L246.2 126.1M245.1 126.1L245.1 128.9M246.4 127.0L246.7 127.0M246.7 127.0L246.7 127.9M245.9 127.0L246.4 127.0M245.9 127.0L245.9 130.7M246.7 127.9L246.9 127.9M246.9 127.9L246.9 128.8M246.9 128.8L247.2 128.8M247.2 128.8L247.2 129.7M246.0 128.8L246.9 128.8M246.0 128.8L246.0 132.0M247.2 129.7L247.4 129.7M247.4 129.7L247.4 130.6M247.4 130.6L247.7 130.6M247.7 130.6L247.7 131.5M247.2 130.6L247.4 130.6M247.2 130.6L247.2 135.3M247.7 131.5L248.0 131.5M248.0 131.5L248.0 132.4M247.0 131.5L247.7 131.5M247.0 131.5L247.0 134.7M248.0 132.4L248.2 132.4M248.2 132.4L248.2 133.3M248.3 132.4L248.0 132.4M248.3 132.4L248.3 135.8M248.2 133.3L248.5 133.3M248.5 133.3L248.5 134.2M248.5 134.2L248.7 134.2M248.7 134.2L248.7 135.1M248.6 134.2L248.5 134.2M248.6 134.2L248.6 138.6M248.7 135.1L249.0 135.1M249.0 135.1L249.0 136.0M247.7 135.1L248.7 135.1M247.7 135.1L247.7 137.5M249.0 136.0L249.2 136.0M249.2 136.0L249.2 137.0M249.3 136.0L249.0 136.0M249.3 136.0L249.3 138.4M249.2 137.0L249.4 137.0M249.4 137.0L249.4 137.9M249.4 137.9L249.6 137.9M249.6 137.9L249.6 138.9M249.6 138.9L249.8 138.9M249.8 138.9L249.8 139.8M249.8 139.8L250.0 139.8M250.0 139.8L250.0 140.8M249.9 139.8L249.8 139.8M249.9 139.8L249.9 142.5M250.0 140.8L250.2 140.8M250.2 140.8L250.2 141.8M249.9 140.8L250.0 140.8M249.9 140.8L249.9 145.3M250.2 141.8L250.4 141.8M250.4 141.8L250.4 142.7M250.4 142.7L250.6 142.7M250.6 142.7L250.6 143.7M250.9 142.7L250.4 142.7M250.9 142.7L250.9 145.6M250.6 143.7L250.8 143.7M250.8 143.7L250.8 144.6M250.8 144.6L251.0 144.6M251.0 144.6L251.0 145.6M251.0 145.6L251.1 145.6M251.1 145.6L251.1 146.5M250.5 145.6L251.0 145.6M250.5 145.6L250.5 148.3M251.1 146.5L251.1 146.5M251.1 146.5L251.1 147.5M250.0 146.5L251.1 146.5M250.0 146.5L250.0 150.5M251.1 147.5L251.2 147.5M251.2 147.5L251.2 148.4M251.4 147.5L251.1 147.5M251.4 147.5L251.4 149.2M251.2 148.4L251.3 148.4M251.3 148.4L251.3 149.3M250.3 148.4L251.2 148.4M250.3 148.4L250.3 153.2M251.3 149.3L251.4 149.3M251.4 149.3L251.4 150.2M251.4 150.2L251.4 150.2M251.4 150.2L251.4 151.2M251.4 151.2L251.5 151.2M251.5 151.2L251.5 152.1M250.4 151.2L251.4 151.2M250.4 151.2L250.4 154.1M251.5 152.1L251.6 152.1M251.6 152.1L251.6 153.0M250.3 152.1L251.5 152.1M250.3 152.1L250.3 155.6M251.6 153.0L251.6 153.0M251.6 153.0L251.6 154.0M250.6 153.0L251.6 153.0M250.6 153.0L250.6 156.3M251.6 154.0L251.7 154.0M251.7 154.0L251.7 154.9M251.7 154.9L251.8 154.9M251.8 154.9L251.8 155.8M251.8 155.8L251.9 155.8M251.9 155.8L251.9 156.7M250.8 155.8L251.8 155.8M250.8 155.8L250.8 160.0M251.9 156.7L251.9 156.7M251.9 156.7L251.9 157.7M251.6 156.7L251.9 156.7M251.6 156.7L251.6 158.5M251.9 157.7L252.0 157.7M252.0 157.7L252.0 158.6M219.6 51.0L219.9 51.0M219.9 51.0L219.9 52.0M219.1 51.0L219.6 51.0M219.1 51.0L219.1 52.8M219.9 52.0L220.2 52.0M220.2 52.0L220.2 53.0M220.2 53.0L220.4 53.0M220.4 53.0L220.4 54.0M220.4 54.0L220.7 54.0M220.7 54.0L220.7 55.0M219.6 54.0L220.4 54.0M219.6 54.0L219.6 56.5M220.7 55.0L221.0 55.0M221.0 55.0L221.0 56.0M221.0 56.0L221.1 56.0M221.1 56.0L221.1 56.9M220.9 56.0L221.0 56.0M220.9 56.0L220.9 59.8M221.1 56.9L221.3 56.9M221.3 56.9L221.3 57.9M221.3 56.9L221.1 56.9M221.3 56.9L221.3 59.5M221.3 57.9L221.4 57.9M221.4 57.9L221.4 58.8M220.2 57.9L221.3 57.9M220.2 57.9L220.2 61.7M221.4 58.8L221.5 58.8M221.5 58.8L221.5 59.7M221.0 58.8L221.4 58.8M221.0 58.8L221.0 62.6M221.5 59.7L221.7 59.7M221.7 59.7L221.7 60.7M221.7 60.7L221.8 60.7M221.8 60.7L221.8 61.6M220.9 60.7L221.7 60.7M220.9 60.7L220.9 63.9M221.8 61.6L221.9 61.6M221.9 61.6L221.9 62.5M221.4 61.6L221.8 61.6M221.4 61.6L221.4 64.9M221.9 62.5L222.1 62.5M222.1 62.5L222.1 63.5M222.1 63.5L222.2 63.5M222.2 63.5L222.2 64.4M221.2 63.5L222.1 63.5M221.2 63.5L221.2 66.6M222.2 64.4L222.3 64.4M222.3 64.4L222.3 65.3M222.3 65.3L222.5 65.3M222.5 65.3L222.5 66.3M222.8 65.3L222.3 65.3M222.8 65.3L222.8 66.7M222.5 66.3L222.6 66.3M222.6 66.3L222.6 67.2M221.4 66.3L222.5 66.3M221.4 66.3L221.4 68.6M222.6 67.2L222.7 67.2M222.7 67.2L222.7 68.1M222.7 68.1L222.9 68.1M222.9 68.1L222.9 69.1M222.9 69.1L223.0 69.1M223.0 69.1L223.0 70.0M222.9 69.1L222.9 69.1M222.9 69.1L222.9 70.4M223.0 70.0L223.1 70.0M223.1 70.0L223.1 70.9M223.1 70.9L223.2 70.9M223.2 70.9L223.2 71.8M222.5 70.9L223.1 70.9M222.5 70.9L222.5 72.1M223.2 71.8L223.3 71.8M223.3 71.8L223.3 72.7M223.3 72.7L223.4 72.7M223.4 72.7L223.4 73.6M223.4 72.7L223.3 72.7M223.4 72.7L223.4 74.7M223.4 73.6L223.5 73.6M223.5 73.6L223.5 74.5M223.5 74.5L223.6 74.5M223.6 74.5L223.6 75.4M223.6 75.4L223.7 75.4M223.7 75.4L223.7 76.3M223.9 75.4L223.6 75.4M223.9 75.4L223.9 79.2M223.7 76.3L223.8 76.3M223.8 76.3L223.8 77.2M223.1 76.3L223.7 76.3M223.1 76.3L223.1 79.9M223.8 77.2L223.9 77.2M223.9 77.2L223.9 78.1M223.3 77.2L223.8 77.2M223.3 77.2L223.3 79.4M223.9 78.1L224.0 78.1M224.0 78.1L224.0 79.0M224.0 79.0L224.1 79.0M224.1 79.0L224.1 79.9M223.9 79.0L224.0 79.0M223.9 79.0L223.9 82.3M224.1 79.9L224.2 79.9M224.2 79.9L224.2 80.8M224.2 80.8L224.3 80.8M224.3 80.8L224.3 81.7M224.6 80.8L224.2 80.8M224.6 80.8L224.6 82.7M224.3 81.7L224.4 81.7M224.4 81.7L224.4 82.6M224.4 82.6L224.5 82.6M224.5 82.6L224.5 83.5M224.5 83.5L224.6 83.5M224.6 83.5L224.6 84.4M224.7 83.5L224.5 83.5M224.7 83.5L224.7 86.5M224.6 84.4L224.7 84.4M224.7 84.4L224.7 85.3M224.6 84.4L224.6 84.4M224.6 84.4L224.6 86.9M224.7 85.3L224.8 85.3M224.8 85.3L224.8 86.2M224.8 86.2L224.9 86.2M224.9 86.2L224.9 87.1M224.9 87.1L225.0 87.1M225.0 87.1L225.0 88.0M225.0 88.0L225.1 88.0M225.1 88.0L225.1 88.9M224.6 88.0L225.0 88.0M224.6 88.0L224.6 89.0M225.1 88.9L225.2 88.9M225.2 88.9L225.2 89.8M225.2 89.8L225.3 89.8M225.3 89.8L225.3 90.7M225.3 90.7L225.4 90.7M225.4 90.7L225.4 91.6M225.4 91.6L225.5 91.6M225.5 91.6L225.5 92.5M225.1 91.6L225.4 91.6M225.1 91.6L225.1 94.1M225.5 92.5L225.6 92.5M225.6 92.5L225.6 93.4M224.6 92.5L225.5 92.5M224.6 92.5L224.6 96.5M225.6 93.4L225.7 93.4M225.7 93.4L225.7 94.3M225.7 94.3L225.8 94.3M225.8 94.3L225.8 95.2M225.9 94.3L225.7 94.3M225.9 94.3L225.9 97.3M225.8 95.2L225.8 95.2M225.8 95.2L225.8 96.2M225.6 95.2L225.8 95.2M225.6 95.2L225.6 96.9M225.8 96.2L225.9 96.2M225.9 96.2L225.9 97.1M224.7 96.2L225.8 96.2M224.7 96.2L224.7 99.1M225.9 97.1L226.0 97.1M226.0 97.1L226.0 98.0M226.0 98.0L226.1 98.0M226.1 98.0L226.1 98.9M226.1 98.9L226.2 98.9M226.2 98.9L226.2 99.8M225.7 98.9L226.1 98.9M225.7 98.9L225.7 100.8M226.2 99.8L226.3 99.8M226.3 99.8L226.3 100.7M226.3 100.7L226.4 100.7M226.4 100.7L226.4 101.6M226.1 100.7L226.3 100.7M226.1 100.7L226.1 104.0M226.4 101.6L226.5 101.6M226.5 101.6L226.5 102.5M226.4 101.6L226.4 101.6M226.4 101.6L226.4 102.8M199.0 32.5L199.0 45.0M199.0 32.5L200.5 32.5M202.0 34.0L202.0 48.0M202.0 34.0L203.5 34.0M205.5 36.0L205.5 50.0M205.5 36.0L207.0 36.0M208.7 38.5L208.7 52.0M208.7 38.5L210.2 38.5M212.8 42.0L212.8 54.7M212.8 42.0L214.3 42.0M216.9 47.8L216.9 58.8M216.9 47.8L218.4 47.8M221.0 55.0L221.0 75.0M221.0 55.0L222.5 55.0M256.5 31.4L256.5 38.3M254.5 38.3L258.0 38.3M254.5 38.3L254.5 38.3M254.5 38.3L254.5 39.2M254.7 38.3L254.5 38.3M254.7 38.3L254.7 39.6M254.5 39.2L254.5 39.2M254.5 39.2L254.5 40.1M253.3 39.2L254.5 39.2M253.3 39.2L253.3 41.7M254.5 40.1L254.5 40.1M254.5 40.1L254.5 41.0M254.1 40.1L254.5 40.1M254.1 40.1L254.1 42.0M254.5 41.0L254.5 41.0M254.5 41.0L254.5 41.9M254.5 41.9L254.5 41.9M254.5 41.9L254.5 42.8M254.2 41.9L254.5 41.9M254.2 41.9L254.2 43.0M254.5 42.8L254.5 42.8M254.5 42.8L254.5 43.7M254.5 43.7L254.5 43.7M254.5 43.7L254.5 44.6M254.5 44.6L254.5 44.6M254.5 44.6L254.5 45.5M254.5 45.5L254.5 45.5M254.5 45.5L254.5 46.4M254.5 46.4L254.5 46.4M254.5 46.4L254.5 47.3M254.5 47.3L254.5 47.3M254.5 47.3L254.5 48.2M254.5 48.2L254.5 48.2M254.5 48.2L254.5 49.1M254.5 49.1L254.5 49.1M254.5 49.1L254.5 50.1M254.5 50.1L254.5 50.1M254.5 50.1L254.5 51.0M254.8 50.1L254.5 50.1M254.8 50.1L254.8 53.0M254.5 51.0L254.5 51.0M254.5 51.0L254.5 51.9M253.4 51.0L254.5 51.0M253.4 51.0L253.4 52.6M254.5 51.9L254.5 51.9M254.5 51.9L254.5 52.8M253.9 51.9L254.5 51.9M253.9 51.9L253.9 53.0M254.5 52.8L254.5 52.8M254.5 52.8L254.5 53.7M253.3 52.8L254.5 52.8M253.3 52.8L253.3 54.6M254.5 53.7L254.5 53.7M254.5 53.7L254.5 54.6M254.5 53.7L254.5 53.7M254.5 53.7L254.5 55.4M254.5 54.6L254.5 54.6M254.5 54.6L254.5 55.5M254.9 54.6L254.5 54.6M254.9 54.6L254.9 57.4M254.5 55.5L254.5 55.5M254.5 55.5L254.5 56.4M254.5 56.4L254.5 56.4M254.5 56.4L254.5 57.3M254.0 56.4L254.5 56.4M254.0 56.4L254.0 58.3M254.5 57.3L254.5 57.3M254.5 57.3L254.5 58.2M253.3 57.3L254.5 57.3M253.3 57.3L253.3 59.2M254.5 58.2L254.5 58.2M254.5 58.2L254.5 59.1M254.5 59.1L254.5 59.1M254.5 59.1L254.5 60.0M254.5 60.0L254.5 60.0M254.5 60.0L254.5 60.9M254.5 60.9L254.5 60.9M254.5 60.9L254.5 61.8M254.5 61.8L254.5 61.8M254.5 61.8L254.5 62.7M254.5 62.7L254.5 62.7M254.5 62.7L254.5 63.6M254.5 63.6L254.5 63.6M254.5 63.6L254.5 64.5M254.5 64.5L254.5 64.5M254.5 64.5L254.5 65.4M254.5 65.4L254.5 65.4M254.5 65.4L254.5 66.3M254.4 65.4L254.5 65.4M254.4 65.4L254.4 67.7M254.5 66.3L254.5 66.3M254.5 66.3L254.5 67.2M254.5 67.2L254.5 67.2M254.5 67.2L254.5 68.1M254.5 68.1L254.5 68.1M254.5 68.1L254.5 69.0M253.6 68.1L254.5 68.1M253.6 68.1L253.6 69.8M254.5 69.0L254.5 69.0M254.5 69.0L254.5 69.9M254.5 69.0L254.5 69.0M254.5 69.0L254.5 71.5M254.5 69.9L254.5 69.9M254.5 69.9L254.5 70.8M254.2 69.9L254.5 69.9M254.2 69.9L254.2 72.6M254.5 70.8L254.5 70.8M254.5 70.8L254.5 71.7M253.5 70.8L254.5 70.8M253.5 70.8L253.5 73.0M254.5 71.7L254.5 71.7M254.5 71.7L254.5 72.6M253.5 71.7L254.5 71.7M253.5 71.7L253.5 73.3M254.5 72.6L254.5 72.6M254.5 72.6L254.5 73.5M253.6 72.6L254.5 72.6M253.6 72.6L253.6 74.5M254.5 73.5L254.5 73.5M254.5 73.5L254.5 74.4M253.3 73.5L254.5 73.5M253.3 73.5L253.3 75.6M254.5 74.4L254.5 74.4M254.5 74.4L254.5 75.3M254.5 75.3L254.5 75.3M254.5 75.3L254.5 76.2M254.5 76.2L254.5 76.2M254.5 76.2L254.5 77.1M254.9 76.2L254.5 76.2M254.9 76.2L254.9 77.4M254.5 77.1L254.5 77.1M254.5 77.1L254.5 78.0M253.3 77.1L254.5 77.1M253.3 77.1L253.3 78.2M254.5 78.0L254.5 78.0M254.5 78.0L254.5 78.9M254.5 78.9L254.5 78.9M254.5 78.9L254.5 79.8M254.5 79.8L254.5 79.8M254.5 79.8L254.5 80.7M254.7 79.8L254.5 79.8M254.7 79.8L254.7 81.7M254.5 80.7L254.5 80.7M254.5 80.7L254.5 81.6M254.5 81.6L254.5 81.6M254.5 81.6L254.5 82.5M254.5 82.5L254.5 82.5M254.5 82.5L254.5 83.4M253.6 82.5L254.5 82.5M253.6 82.5L253.6 84.4M258.0 38.3L258.2 38.3M258.2 38.3L258.2 39.2M258.2 38.3L258.0 38.3M258.2 38.3L258.2 40.0M258.2 39.2L258.4 39.2M258.4 39.2L258.4 40.1M258.4 39.2L258.2 39.2M258.4 39.2L258.4 40.4M258.4 40.1L258.5 40.1M258.5 40.1L258.5 40.9M257.5 40.1L258.4 40.1M257.5 40.1L257.5 43.1M258.5 40.9L258.7 40.9M258.7 40.9L258.7 41.8M258.7 41.8L258.9 41.8M258.9 41.8L258.9 42.7M258.8 41.8L258.7 41.8M258.8 41.8L258.8 44.0M258.9 42.7L259.1 42.7M259.1 42.7L259.1 43.6M259.2 42.7L258.9 42.7M259.2 42.7L259.2 46.0M259.1 43.6L259.3 43.6M259.3 43.6L259.3 44.5M259.0 43.6L259.1 43.6M259.0 43.6L259.0 45.0M259.3 44.5L259.5 44.5M259.5 44.5L259.5 45.4M258.2 44.5L259.3 44.5M258.2 44.5L258.2 47.4M259.5 45.4L259.6 45.4M259.6 45.4L259.6 46.2M259.6 46.2L259.8 46.2M259.8 46.2L259.8 47.1M259.8 47.1L260.0 47.1M260.0 47.1L260.0 48.0M259.5 47.1L259.8 47.1M259.5 47.1L259.5 49.5M260.0 48.0L260.2 48.0M260.2 48.0L260.2 48.9M259.1 48.0L260.0 48.0M259.1 48.0L259.1 49.8M260.2 48.9L260.4 48.9M260.4 48.9L260.4 49.9M259.1 48.9L260.2 48.9M259.1 48.9L259.1 51.9M260.4 49.9L260.5 49.9M260.5 49.9L260.5 50.8M259.7 49.9L260.4 49.9M259.7 49.9L259.7 51.1M260.5 50.8L260.7 50.8M260.7 50.8L260.7 51.7M260.9 50.8L260.5 50.8M260.9 50.8L260.9 52.7M260.7 51.7L260.9 51.7M260.9 51.7L260.9 52.6M260.1 51.7L260.7 51.7M260.1 51.7L260.1 55.5M260.9 52.6L261.1 52.6M261.1 52.6L261.1 53.6M260.3 52.6L260.9 52.6M260.3 52.6L260.3 54.3M261.1 53.6L261.3 53.6M261.3 53.6L261.3 54.5M261.3 54.5L261.4 54.5M261.4 54.5L261.4 55.4M260.2 54.5L261.3 54.5M260.2 54.5L260.2 58.1M261.4 55.4L261.6 55.4M261.6 55.4L261.6 56.3M261.4 55.4L261.4 55.4M261.4 55.4L261.4 57.8M261.6 56.3L261.8 56.3M261.8 56.3L261.8 57.3M261.8 57.3L262.0 57.3M262.0 57.3L262.0 58.2M261.0 57.3L261.8 57.3M261.0 57.3L261.0 59.1M262.0 58.2L262.1 58.2M262.1 58.2L262.1 59.1M262.2 58.2L262.0 58.2M262.2 58.2L262.2 60.7M262.1 59.1L262.3 59.1M262.3 59.1L262.3 60.0M261.8 59.1L262.1 59.1M261.8 59.1L261.8 62.7M262.3 60.0L262.5 60.0M262.5 60.0L262.5 61.0M262.5 61.0L262.7 61.0M262.7 61.0L262.7 61.9M262.4 61.0L262.5 61.0M262.4 61.0L262.4 63.8M262.7 61.9L262.9 61.9M262.9 61.9L262.9 62.8M262.2 61.9L262.7 61.9M262.2 61.9L262.2 63.3M262.9 62.8L263.0 62.8M263.0 62.8L263.0 63.7M263.2 62.8L262.9 62.8M263.2 62.8L263.2 64.7M263.0 63.7L263.2 63.7M263.2 63.7L263.2 64.7M262.9 63.7L263.0 63.7M262.9 63.7L262.9 66.5M263.2 64.7L263.4 64.7M263.4 64.7L263.4 65.6M262.8 64.7L263.2 64.7M262.8 64.7L262.8 67.9M263.4 65.6L268.2 65.6M268.2 65.6L268.2 65.6M268.2 65.6L268.2 66.5M267.2 65.6L268.2 65.6M267.2 65.6L267.2 67.4M268.2 66.5L268.2 66.5M268.2 66.5L268.2 67.4M268.2 67.4L268.2 67.4M268.2 67.4L268.2 68.3M267.1 67.4L268.2 67.4M267.1 67.4L267.1 69.0M268.2 68.3L268.2 68.3M268.2 68.3L268.2 69.2M268.1 68.3L268.2 68.3M268.1 68.3L268.1 69.4M268.2 69.2L268.2 69.2M268.2 69.2L268.2 70.2M267.3 69.2L268.2 69.2M267.3 69.2L267.3 70.6M268.2 70.2L268.2 70.2M268.2 70.2L268.2 71.1M268.2 71.1L268.2 71.1M268.2 71.1L268.2 72.0M268.5 71.1L268.2 71.1M268.5 71.1L268.5 72.9M268.2 72.0L268.2 72.0M268.2 72.0L268.2 72.9M268.2 72.9L268.2 72.9M268.2 72.9L268.2 73.8M264.1 65.6L264.2 65.6M264.2 65.6L264.2 66.5M263.7 65.6L264.1 65.6M263.7 65.6L263.7 67.2M264.2 66.5L264.2 66.5M264.2 66.5L264.2 67.4M264.2 67.4L264.3 67.4M264.3 67.4L264.3 68.3M264.5 67.4L264.2 67.4M264.5 67.4L264.5 69.1M264.3 68.3L264.3 68.3M264.3 68.3L264.3 69.2M264.3 69.2L264.4 69.2M264.4 69.2L264.4 70.1M264.4 70.1L264.4 70.1M264.4 70.1L264.4 71.0M264.4 71.0L264.5 71.0M264.5 71.0L264.5 71.9M264.7 71.0L264.4 71.0M264.7 71.0L264.7 74.0M264.5 71.9L264.6 71.9M264.6 71.9L264.6 72.8M264.6 71.9L264.5 71.9M264.6 71.9L264.6 74.4M264.6 72.8L264.6 72.8M264.6 72.8L264.6 73.7M263.8 72.8L264.6 72.8M263.8 72.8L263.8 74.1M264.6 73.7L264.7 73.7M264.7 73.7L264.7 74.6M265.0 73.7L264.6 73.7M265.0 73.7L265.0 75.5M264.7 74.6L264.7 74.6M264.7 74.6L264.7 75.5M264.5 74.6L264.7 74.6M264.5 74.6L264.5 76.5M264.7 75.5L264.8 75.5M264.8 75.5L264.8 76.4M264.8 76.4L264.8 76.4M264.8 76.4L264.8 77.3M264.1 76.4L264.8 76.4M264.1 76.4L264.1 77.5M264.8 77.3L264.9 77.3M264.9 77.3L264.9 78.2M264.9 78.2L264.9 78.2M264.9 78.2L264.9 79.1M264.9 79.1L265.0 79.1M265.0 79.1L265.0 80.0M264.6 79.1L264.9 79.1M264.6 79.1L264.6 81.3M265.0 80.0L265.1 80.0M265.1 80.0L265.1 80.9M265.3 80.0L265.0 80.0M265.3 80.0L265.3 82.6M265.1 80.9L265.2 80.9M265.2 80.9L265.2 81.9M264.5 80.9L265.1 80.9M264.5 80.9L264.5 83.2M265.2 81.9L265.3 81.9M265.3 81.9L265.3 82.8M265.6 81.9L265.2 81.9M265.6 81.9L265.6 83.0M265.3 82.8L265.4 82.8M265.4 82.8L265.4 83.8M264.5 82.8L265.3 82.8M264.5 82.8L264.5 84.9M265.4 83.8L265.5 83.8M265.5 83.8L265.5 84.7M264.6 83.8L265.4 83.8M264.6 83.8L264.6 86.7M265.5 84.7L265.6 84.7M265.6 84.7L265.6 85.6M265.6 85.6L265.7 85.6M265.7 85.6L265.7 86.6M265.1 85.6L265.6 85.6M265.1 85.6L265.1 86.7M265.7 86.6L265.8 86.6M265.8 86.6L265.8 87.5M264.8 86.6L265.7 86.6M264.8 86.6L264.8 89.5M265.8 87.5L265.8 87.5M265.8 87.5L265.8 88.4M265.0 87.5L265.8 87.5M265.0 87.5L265.0 88.6M265.8 88.4L265.9 88.4M265.9 88.4L265.9 89.4M266.3 88.4L265.8 88.4M266.3 88.4L266.3 90.9M265.9 89.4L266.0 89.4M266.0 89.4L266.0 90.3M266.0 90.3L266.1 90.3M266.1 90.3L266.1 91.2M266.1 91.2L266.2 91.2M266.2 91.2L266.2 92.2M266.2 92.2L266.3 92.2M266.3 92.2L266.3 93.1M265.3 92.2L266.2 92.2M265.3 92.2L265.3 93.7M266.3 93.1L266.4 93.1M266.4 93.1L266.4 94.1M265.4 93.1L266.3 93.1M265.4 93.1L265.4 95.6M266.4 94.1L266.5 94.1M266.5 94.1L266.5 95.0M265.2 94.1L266.4 94.1M265.2 94.1L265.2 95.7M266.5 95.0L266.6 95.0M266.6 95.0L266.6 95.9M266.6 95.9L266.6 95.9M266.6 95.9L266.6 96.9M266.6 96.9L266.7 96.9M266.7 96.9L266.7 97.8M266.7 97.8L266.7 97.8M266.7 97.8L266.7 98.7M266.7 98.7L266.8 98.7M266.8 98.7L266.8 99.6M266.8 99.6L266.9 99.6M266.9 99.6L266.9 100.6M266.9 100.6L266.9 100.6M266.9 100.6L266.9 101.5M266.6 100.6L266.9 100.6M266.6 100.6L266.6 102.1M266.9 101.5L267.0 101.5M267.0 101.5L267.0 102.4M266.2 101.5L266.9 101.5M266.2 101.5L266.2 103.4M267.0 102.4L267.0 102.4M267.0 102.4L267.0 103.4M265.9 102.4L267.0 102.4M265.9 102.4L265.9 103.9M267.0 103.4L267.1 103.4M267.1 103.4L267.1 104.3M267.5 103.4L267.0 103.4M267.5 103.4L267.5 105.3M267.1 104.3L267.1 104.3M267.1 104.3L267.1 105.2M267.1 105.2L267.2 105.2M267.2 105.2L267.2 106.2M267.2 106.2L267.3 106.2M267.3 106.2L267.3 107.1M267.3 107.1L267.3 107.1M267.3 107.1L267.3 108.0M266.7 107.1L267.3 107.1M266.7 107.1L266.7 108.7M267.3 108.0L267.4 108.0M267.4 108.0L267.4 108.9M267.4 108.9L267.4 108.9M267.4 108.9L267.4 109.9M267.4 109.9L267.5 109.9M267.5 109.9L267.5 110.8M258.6 45.0L258.6 68.0M50.0 24.6L335.0 24.6" stroke="#000" stroke-width="0.85" fill="none"/>
<rect x="49.40" y="169.3" width="0.95" height="53.9" fill="#8fd8e0"/>
<rect x="50.20" y="169.3" width="1.95" height="53.9" fill="#a52a2a"/>
<rect x="52.00" y="169.3" width="1.15" height="53.9" fill="#d0e070"/>
<rect x="53.00" y="169.3" width="2.45" height="53.9" fill="#2050a8"/>
<rect x="55.30" y="169.3" width="1.05" height="53.9" fill="#b04040"/>
<rect x="56.20" y="169.3" width="2.45" height="53.9" fill="#2050a8"/>
<rect x="58.50" y="169.3" width="2.05" height="53.9" fill="#c08080"/>
<rect x="60.40" y="169.3" width="1.75" height="53.9" fill="#b03030"/>
<rect x="62.00" y="169.3" width="1.45" height="53.9" fill="#9090d0"/>
<rect x="63.30" y="169.3" width="1.25" height="53.9" fill="#5a3a8a"/>
<rect x="64.40" y="169.3" width="1.25" height="53.9" fill="#40a0a0"/>
<rect x="65.50" y="169.3" width="2.65" height="53.9" fill="#2050a8"/>
<rect x="68.00" y="169.3" width="1.65" height="53.9" fill="#f0e080"/>
<rect x="69.50" y="169.3" width="1.65" height="53.9" fill="#90d8c8"/>
<rect x="71.00" y="169.3" width="1.15" height="53.9" fill="#a03030"/>
<rect x="72.00" y="169.3" width="2.05" height="53.9" fill="#e0c0c8"/>
<rect x="73.90" y="169.3" width="1.55" height="53.9" fill="#a0d890"/>
<rect x="75.30" y="169.3" width="2.35" height="53.9" fill="#e07830"/>
<rect x="77.50" y="169.3" width="1.25" height="53.9" fill="#80d0d8"/>
<rect x="78.60" y="169.3" width="1.95" height="53.9" fill="#2858b0"/>
<rect x="80.40" y="169.3" width="1.65" height="53.9" fill="#48b0a8"/>
<rect x="81.90" y="169.3" width="3.05" height="53.9" fill="#60b030"/>
<rect x="84.80" y="169.3" width="1.25" height="53.9" fill="#b02828"/>
<rect x="85.90" y="169.3" width="1.55" height="53.9" fill="#c8d850"/>
<rect x="87.30" y="169.3" width="1.65" height="53.9" fill="#98d0c0"/>
<rect x="88.80" y="169.3" width="2.35" height="53.9" fill="#a07850"/>
<rect x="91.00" y="169.3" width="3.05" height="53.9" fill="#889080"/>
<rect x="93.90" y="169.3" width="1.55" height="53.9" fill="#c09090"/>
<rect x="95.30" y="169.3" width="2.05" height="53.9" fill="#50c0b8"/>
<rect x="97.20" y="169.3" width="1.55" height="53.9" fill="#e08030"/>
<rect x="98.60" y="169.3" width="2.25" height="53.9" fill="#a83838"/>
<rect x="100.70" y="169.3" width="2.35" height="53.9" fill="#e08030"/>
<rect x="102.90" y="169.3" width="1.25" height="53.9" fill="#2050a8"/>
<rect x="104.00" y="169.3" width="3.05" height="53.9" fill="#8a9a60"/>
<rect x="106.90" y="169.3" width="1.25" height="53.9" fill="#c07030"/>
<rect x="108.00" y="169.3" width="1.95" height="53.9" fill="#907840"/>
<rect x="109.80" y="169.3" width="3.45" height="53.9" fill="#a52a2a"/>
<rect x="113.10" y="169.3" width="1.65" height="53.9" fill="#a0e090"/>
<rect x="114.60" y="169.3" width="1.25" height="53.9" fill="#70d0c0"/>
<rect x="115.70" y="169.3" width="1.55" height="53.9" fill="#e07830"/>
<rect x="117.10" y="169.3" width="1.95" height="53.9" fill="#2050a8"/>
<rect x="118.90" y="169.3" width="1.65" height="53.9" fill="#3888b0"/>
<rect x="120.40" y="169.3" width="1.55" height="53.9" fill="#a04038"/>
<rect x="121.80" y="169.3" width="2.05" height="53.9" fill="#e07830"/>
<rect x="123.70" y="169.3" width="2.65" height="53.9" fill="#c8e040"/>
<rect x="126.20" y="169.3" width="1.25" height="53.9" fill="#c0c870"/>
<rect x="127.30" y="169.3" width="1.95" height="53.9" fill="#f0e040"/>
<rect x="129.10" y="169.3" width="1.25" height="53.9" fill="#40b0b0"/>
<rect x="130.20" y="169.3" width="1.65" height="53.9" fill="#90d8c0"/>
<rect x="131.70" y="169.3" width="2.35" height="53.9" fill="#f0d040"/>
<rect x="133.90" y="169.3" width="3.35" height="53.9" fill="#c0e080"/>
<rect x="137.10" y="169.3" width="1.25" height="53.9" fill="#f0e040"/>
<rect x="138.20" y="169.3" width="1.65" height="53.9" fill="#e08030"/>
<rect x="139.70" y="169.3" width="1.25" height="53.9" fill="#a09050"/>
<rect x="140.80" y="169.3" width="1.55" height="53.9" fill="#a0d890"/>
<rect x="142.20" y="169.3" width="2.75" height="53.9" fill="#b02828"/>
<rect x="144.80" y="169.3" width="1.95" height="53.9" fill="#a0d890"/>
<rect x="146.60" y="169.3" width="1.65" height="53.9" fill="#2050a8"/>
<rect x="148.10" y="169.3" width="2.35" height="53.9" fill="#909070"/>
<rect x="150.30" y="169.3" width="1.55" height="53.9" fill="#a8d890"/>
<rect x="151.70" y="169.3" width="1.35" height="53.9" fill="#2050a8"/>
<rect x="152.90" y="169.3" width="13.65" height="53.9" fill="#68b232"/>
<rect x="166.40" y="169.3" width="0.65" height="53.9" fill="#808040"/>
<rect x="166.90" y="169.3" width="6.15" height="53.9" fill="#5cc0bc"/>
<rect x="172.90" y="169.3" width="1.65" height="53.9" fill="#a32a2a"/>
<rect x="174.40" y="169.3" width="2.75" height="53.9" fill="#5cc0bc"/>
<rect x="177.00" y="169.3" width="20.15" height="53.9" fill="#a32a2a"/>
<rect x="197.00" y="169.3" width="56.65" height="53.9" fill="#5cc0bc"/>
<rect x="253.50" y="169.3" width="14.85" height="53.9" fill="#f0e63c"/>
<rect x="268.20" y="169.3" width="23.15" height="53.9" fill="#2148a0"/>
<rect x="291.20" y="169.3" width="0.85" height="53.9" fill="#8a9050"/>
<rect x="291.90" y="169.3" width="1.05" height="53.9" fill="#2148a0"/>
<rect x="292.80" y="169.3" width="2.15" height="53.9" fill="#5cc0bc"/>
<rect x="294.80" y="169.3" width="1.25" height="53.9" fill="#5a3a8a"/>
<rect x="295.90" y="169.3" width="1.25" height="53.9" fill="#5cc0bc"/>
<rect x="297.00" y="169.3" width="1.55" height="53.9" fill="#2148a0"/>
<rect x="298.40" y="169.3" width="1.75" height="53.9" fill="#90d8c0"/>
<rect x="300.00" y="169.3" width="1.15" height="53.9" fill="#e07830"/>
<rect x="301.00" y="169.3" width="2.35" height="53.9" fill="#b02828"/>
<rect x="303.20" y="169.3" width="0.95" height="53.9" fill="#2148a0"/>
<rect x="304.00" y="169.3" width="1.15" height="53.9" fill="#f0e040"/>
<rect x="305.00" y="169.3" width="1.55" height="53.9" fill="#9090d0"/>
<rect x="306.40" y="169.3" width="1.45" height="53.9" fill="#a07060"/>
<rect x="307.70" y="169.3" width="1.15" height="53.9" fill="#5050a0"/>
<rect x="308.70" y="169.3" width="1.45" height="53.9" fill="#a0d890"/>
<rect x="310.00" y="169.3" width="2.05" height="53.9" fill="#2148a0"/>
<rect x="311.90" y="169.3" width="1.25" height="53.9" fill="#b0b050"/>
<rect x="313.00" y="169.3" width="1.95" height="53.9" fill="#909090"/>
<rect x="314.80" y="169.3" width="4.95" height="53.9" fill="#2050a8"/>
<rect x="319.60" y="169.3" width="2.25" height="53.9" fill="#3070c0"/>
<rect x="321.70" y="169.3" width="2.55" height="53.9" fill="#b02828"/>
<rect x="324.10" y="169.3" width="0.95" height="53.9" fill="#40a090"/>
<rect x="324.90" y="169.3" width="1.25" height="53.9" fill="#a0d890"/>
<rect x="326.00" y="169.3" width="3.05" height="53.9" fill="#2148a0"/>
<rect x="328.90" y="169.3" width="2.25" height="53.9" fill="#4848a0"/>
<rect x="331.00" y="169.3" width="1.75" height="53.9" fill="#b02828"/>
<rect x="332.60" y="169.3" width="1.75" height="53.9" fill="#a0d890"/>
<rect x="334.20" y="169.3" width="2.15" height="53.9" fill="#2148a0"/>
<rect x="49.4" y="169.3" width="286.8" height="53.9" fill="none" stroke="#888" stroke-width="0.6"/>
<line x1="49.4" y1="196.3" x2="336.2" y2="196.3" stroke="#111" stroke-width="0.9"/>
<text x="44.30" y="184.40" font-size="5.5" text-anchor="end" fill="#222">Dynamic Tree Cut</text>
<text x="44.30" y="211.20" font-size="5.5" text-anchor="end" fill="#222">Merged dynamic</text>
<text x="524.80" y="19.90" font-size="8" text-anchor="start" fill="#222">Module−trait relationships</text>
<rect x="381.2" y="28.50" width="10.7" height="27.95" fill="#2148a0"/>
<text x="379.50" y="45.33" font-size="6.3" text-anchor="end" fill="#222">MEblue</text>
<rect x="393.50" y="28.50" width="28.23" height="27.95" fill="#c2e0b5"/>
<text x="407.46" y="41.73" font-size="5.2" text-anchor="middle" fill="#111">−0.32</text>
<text x="407.46" y="48.12" font-size="5.2" text-anchor="middle" fill="#111">(3e−15)</text>
<rect x="421.43" y="28.50" width="28.23" height="27.95" fill="#f6faf4"/>
<text x="435.39" y="41.73" font-size="5.2" text-anchor="middle" fill="#111">−0.078</text>
<text x="435.39" y="48.12" font-size="5.2" text-anchor="middle" fill="#111">(0.06)</text>
<rect x="449.35" y="28.50" width="28.23" height="27.95" fill="#eef6ea"/>
<text x="463.31" y="41.73" font-size="5.2" text-anchor="middle" fill="#111">−0.12</text>
<text x="463.31" y="48.12" font-size="5.2" text-anchor="middle" fill="#111">(0.003)</text>
<rect x="477.27" y="28.50" width="28.23" height="27.95" fill="#cae4bf"/>
<text x="491.24" y="41.73" font-size="5.2" text-anchor="middle" fill="#111">−0.25</text>
<text x="491.24" y="48.12" font-size="5.2" text-anchor="middle" fill="#111">(1e−09)</text>
<rect x="505.20" y="28.50" width="28.23" height="27.95" fill="#b9dbaa"/>
<text x="519.16" y="41.73" font-size="5.2" text-anchor="middle" fill="#111">−0.35</text>
<text x="519.16" y="48.12" font-size="5.2" text-anchor="middle" fill="#111">(3e−18)</text>
<rect x="533.12" y="28.50" width="28.23" height="27.95" fill="#f0a1a4"/>
<text x="547.09" y="41.73" font-size="5.2" text-anchor="middle" fill="#111">0.37</text>
<text x="547.09" y="48.12" font-size="5.2" text-anchor="middle" fill="#111">(3e−20)</text>
<rect x="561.05" y="28.50" width="28.23" height="27.95" fill="#d3e8ca"/>
<text x="575.01" y="41.73" font-size="5.2" text-anchor="middle" fill="#111">−0.21</text>
<text x="575.01" y="48.12" font-size="5.2" text-anchor="middle" fill="#111">(4e−07)</text>
<rect x="588.98" y="28.50" width="28.23" height="27.95" fill="#ffffff"/>
<text x="602.94" y="41.73" font-size="5.2" text-anchor="middle" fill="#111">0.012</text>
<text x="602.94" y="48.12" font-size="5.2" text-anchor="middle" fill="#111">(0.8)</text>
<rect x="616.90" y="28.50" width="28.23" height="27.95" fill="#f6faf4"/>
<text x="630.86" y="41.73" font-size="5.2" text-anchor="middle" fill="#111">−0.051</text>
<text x="630.86" y="48.12" font-size="5.2" text-anchor="middle" fill="#111">(0.2)</text>
<rect x="644.83" y="28.50" width="28.23" height="27.95" fill="#f5c0c2"/>
<text x="658.79" y="41.73" font-size="5.2" text-anchor="middle" fill="#111">0.27</text>
<text x="658.79" y="48.12" font-size="5.2" text-anchor="middle" fill="#111">(2e−11)</text>
<rect x="672.75" y="28.50" width="28.23" height="27.95" fill="#a8d295"/>
<text x="686.71" y="41.73" font-size="5.2" text-anchor="middle" fill="#111">−0.44</text>
<text x="686.71" y="48.12" font-size="5.2" text-anchor="middle" fill="#111">(1e−28)</text>
<rect x="700.67" y="28.50" width="28.23" height="27.95" fill="#d3e8ca"/>
<text x="714.64" y="41.73" font-size="5.2" text-anchor="middle" fill="#111">−0.21</text>
<text x="714.64" y="48.12" font-size="5.2" text-anchor="middle" fill="#111">(3e−07)</text>
<rect x="381.2" y="56.15" width="10.7" height="27.95" fill="#a32a2a"/>
<text x="379.50" y="72.98" font-size="6.3" text-anchor="end" fill="#222">MEbrown</text>
<rect x="393.50" y="56.15" width="28.23" height="27.95" fill="#d3e8ca"/>
<text x="407.46" y="69.38" font-size="5.2" text-anchor="middle" fill="#111">−0.23</text>
<text x="407.46" y="75.78" font-size="5.2" text-anchor="middle" fill="#111">(3e−08)</text>
<rect x="421.43" y="56.15" width="28.23" height="27.95" fill="#dcedd4"/>
<text x="435.39" y="69.38" font-size="5.2" text-anchor="middle" fill="#111">−0.19</text>
<text x="435.39" y="75.78" font-size="5.2" text-anchor="middle" fill="#111">(2e−06)</text>
<rect x="449.35" y="56.15" width="28.23" height="27.95" fill="#fceaeb"/>
<text x="463.31" y="69.38" font-size="5.2" text-anchor="middle" fill="#111">0.095</text>
<text x="463.31" y="75.78" font-size="5.2" text-anchor="middle" fill="#111">(0.02)</text>
<rect x="477.27" y="56.15" width="28.23" height="27.95" fill="#fdf5f5"/>
<text x="491.24" y="69.38" font-size="5.2" text-anchor="middle" fill="#111">0.062</text>
<text x="491.24" y="75.78" font-size="5.2" text-anchor="middle" fill="#111">(0.1)</text>
<rect x="505.20" y="56.15" width="28.23" height="27.95" fill="#eef6ea"/>
<text x="519.16" y="69.38" font-size="5.2" text-anchor="middle" fill="#111">−0.082</text>
<text x="519.16" y="75.78" font-size="5.2" text-anchor="middle" fill="#111">(0.05)</text>
<rect x="533.12" y="56.15" width="28.23" height="27.95" fill="#ed8c90"/>
<text x="547.09" y="69.38" font-size="5.2" text-anchor="middle" fill="#111">0.44</text>
<text x="547.09" y="75.78" font-size="5.2" text-anchor="middle" fill="#111">(3e−29)</text>
<rect x="561.05" y="56.15" width="28.23" height="27.95" fill="#d3e8ca"/>
<text x="575.01" y="69.38" font-size="5.2" text-anchor="middle" fill="#111">−0.23</text>
<text x="575.01" y="75.78" font-size="5.2" text-anchor="middle" fill="#111">(1e−08)</text>
<rect x="588.98" y="56.15" width="28.23" height="27.95" fill="#f8d5d6"/>
<text x="602.94" y="69.38" font-size="5.2" text-anchor="middle" fill="#111">0.16</text>
<text x="602.94" y="75.78" font-size="5.2" text-anchor="middle" fill="#111">(9e−05)</text>
<rect x="616.90" y="56.15" width="28.23" height="27.95" fill="#fae0e1"/>
<text x="630.86" y="69.38" font-size="5.2" text-anchor="middle" fill="#111">0.13</text>
<text x="630.86" y="75.78" font-size="5.2" text-anchor="middle" fill="#111">(0.002)</text>
<rect x="644.83" y="56.15" width="28.23" height="27.95" fill="#fdf5f5"/>
<text x="658.79" y="69.38" font-size="5.2" text-anchor="middle" fill="#111">0.046</text>
<text x="658.79" y="75.78" font-size="5.2" text-anchor="middle" fill="#111">(0.3)</text>
<rect x="672.75" y="56.15" width="28.23" height="27.95" fill="#b9dbaa"/>
<text x="686.71" y="69.38" font-size="5.2" text-anchor="middle" fill="#111">−0.35</text>
<text x="686.71" y="75.78" font-size="5.2" text-anchor="middle" fill="#111">(5e−18)</text>
<rect x="700.67" y="56.15" width="28.23" height="27.95" fill="#ffffff"/>
<text x="714.64" y="69.38" font-size="5.2" text-anchor="middle" fill="#111">0.0037</text>
<text x="714.64" y="75.78" font-size="5.2" text-anchor="middle" fill="#111">(0.9)</text>
<rect x="381.2" y="83.80" width="10.7" height="27.95" fill="#68b232"/>
<text x="379.50" y="100.63" font-size="6.3" text-anchor="end" fill="#222">MEgreen</text>
<rect x="393.50" y="83.80" width="28.23" height="27.95" fill="#f6faf4"/>
<text x="407.46" y="97.03" font-size="5.2" text-anchor="middle" fill="#111">−0.076</text>
<text x="407.46" y="103.43" font-size="5.2" text-anchor="middle" fill="#111">(0.07)</text>
<rect x="421.43" y="83.80" width="28.23" height="27.95" fill="#fdf5f5"/>
<text x="435.39" y="97.03" font-size="5.2" text-anchor="middle" fill="#111">0.058</text>
<text x="435.39" y="103.43" font-size="5.2" text-anchor="middle" fill="#111">(0.2)</text>
<rect x="449.35" y="83.80" width="28.23" height="27.95" fill="#e5f2df"/>
<text x="463.31" y="97.03" font-size="5.2" text-anchor="middle" fill="#111">−0.14</text>
<text x="463.31" y="103.43" font-size="5.2" text-anchor="middle" fill="#111">(6e−04)</text>
<rect x="477.27" y="83.80" width="28.23" height="27.95" fill="#d3e8ca"/>
<text x="491.24" y="97.03" font-size="5.2" text-anchor="middle" fill="#111">−0.21</text>
<text x="491.24" y="103.43" font-size="5.2" text-anchor="middle" fill="#111">(5e−07)</text>
<rect x="505.20" y="83.80" width="28.23" height="27.95" fill="#f6faf4"/>
<text x="519.16" y="97.03" font-size="5.2" text-anchor="middle" fill="#111">−0.065</text>
<text x="519.16" y="103.43" font-size="5.2" text-anchor="middle" fill="#111">(0.1)</text>
<rect x="533.12" y="83.80" width="28.23" height="27.95" fill="#d3e8ca"/>
<text x="547.09" y="97.03" font-size="5.2" text-anchor="middle" fill="#111">−0.22</text>
<text x="547.09" y="103.43" font-size="5.2" text-anchor="middle" fill="#111">(1e−07)</text>
<rect x="561.05" y="83.80" width="28.23" height="27.95" fill="#ffffff"/>
<text x="575.01" y="97.03" font-size="5.2" text-anchor="middle" fill="#111">−0.0028</text>
<text x="575.01" y="103.43" font-size="5.2" text-anchor="middle" fill="#111">(0.9)</text>
<rect x="588.98" y="83.80" width="28.23" height="27.95" fill="#eef6ea"/>
<text x="602.94" y="97.03" font-size="5.2" text-anchor="middle" fill="#111">−0.085</text>
<text x="602.94" y="103.43" font-size="5.2" text-anchor="middle" fill="#111">(0.04)</text>
<rect x="616.90" y="83.80" width="28.23" height="27.95" fill="#f6faf4"/>
<text x="630.86" y="97.03" font-size="5.2" text-anchor="middle" fill="#111">−0.049</text>
<text x="630.86" y="103.43" font-size="5.2" text-anchor="middle" fill="#111">(0.2)</text>
<rect x="644.83" y="83.80" width="28.23" height="27.95" fill="#ffffff"/>
<text x="658.79" y="97.03" font-size="5.2" text-anchor="middle" fill="#111">0.027</text>
<text x="658.79" y="103.43" font-size="5.2" text-anchor="middle" fill="#111">(0.5)</text>
<rect x="672.75" y="83.80" width="28.23" height="27.95" fill="#ffffff"/>
<text x="686.71" y="97.03" font-size="5.2" text-anchor="middle" fill="#111">0.039</text>
<text x="686.71" y="103.43" font-size="5.2" text-anchor="middle" fill="#111">(0.3)</text>
<rect x="700.67" y="83.80" width="28.23" height="27.95" fill="#f6faf4"/>
<text x="714.64" y="97.03" font-size="5.2" text-anchor="middle" fill="#111">−0.066</text>
<text x="714.64" y="103.43" font-size="5.2" text-anchor="middle" fill="#111">(0.1)</text>
<rect x="381.2" y="111.45" width="10.7" height="27.95" fill="#5cc0bc"/>
<text x="379.50" y="128.28" font-size="6.3" text-anchor="end" fill="#222">MEturquoise</text>
<rect x="393.50" y="111.45" width="28.23" height="27.95" fill="#fceaeb"/>
<text x="407.46" y="124.68" font-size="5.2" text-anchor="middle" fill="#111">0.091</text>
<text x="407.46" y="131.08" font-size="5.2" text-anchor="middle" fill="#111">(0.03)</text>
<rect x="421.43" y="111.45" width="28.23" height="27.95" fill="#fdf5f5"/>
<text x="435.39" y="124.68" font-size="5.2" text-anchor="middle" fill="#111">0.058</text>
<text x="435.39" y="131.08" font-size="5.2" text-anchor="middle" fill="#111">(0.2)</text>
<rect x="449.35" y="111.45" width="28.23" height="27.95" fill="#eef6ea"/>
<text x="463.31" y="124.68" font-size="5.2" text-anchor="middle" fill="#111">−0.082</text>
<text x="463.31" y="131.08" font-size="5.2" text-anchor="middle" fill="#111">(0.05)</text>
<rect x="477.27" y="111.45" width="28.23" height="27.95" fill="#fceaeb"/>
<text x="491.24" y="124.68" font-size="5.2" text-anchor="middle" fill="#111">0.088</text>
<text x="491.24" y="131.08" font-size="5.2" text-anchor="middle" fill="#111">(0.03)</text>
<rect x="505.20" y="111.45" width="28.23" height="27.95" fill="#ffffff"/>
<text x="519.16" y="124.68" font-size="5.2" text-anchor="middle" fill="#111">0.0062</text>
<text x="519.16" y="131.08" font-size="5.2" text-anchor="middle" fill="#111">(0.9)</text>
<rect x="533.12" y="111.45" width="28.23" height="27.95" fill="#f6faf4"/>
<text x="547.09" y="124.68" font-size="5.2" text-anchor="middle" fill="#111">−0.065</text>
<text x="547.09" y="131.08" font-size="5.2" text-anchor="middle" fill="#111">(0.1)</text>
<rect x="561.05" y="111.45" width="28.23" height="27.95" fill="#ffffff"/>
<text x="575.01" y="124.68" font-size="5.2" text-anchor="middle" fill="#111">−0.037</text>
<text x="575.01" y="131.08" font-size="5.2" text-anchor="middle" fill="#111">(0.4)</text>
<rect x="588.98" y="111.45" width="28.23" height="27.95" fill="#ffffff"/>
<text x="602.94" y="124.68" font-size="5.2" text-anchor="middle" fill="#111">−0.015</text>
<text x="602.94" y="131.08" font-size="5.2" text-anchor="middle" fill="#111">(0.7)</text>
<rect x="616.90" y="111.45" width="28.23" height="27.95" fill="#f6faf4"/>
<text x="630.86" y="124.68" font-size="5.2" text-anchor="middle" fill="#111">−0.079</text>
<text x="630.86" y="131.08" font-size="5.2" text-anchor="middle" fill="#111">(0.06)</text>
<rect x="644.83" y="111.45" width="28.23" height="27.95" fill="#eef6ea"/>
<text x="658.79" y="124.68" font-size="5.2" text-anchor="middle" fill="#111">−0.097</text>
<text x="658.79" y="131.08" font-size="5.2" text-anchor="middle" fill="#111">(0.02)</text>
<rect x="672.75" y="111.45" width="28.23" height="27.95" fill="#fae0e1"/>
<text x="686.71" y="124.68" font-size="5.2" text-anchor="middle" fill="#111">0.15</text>
<text x="686.71" y="131.08" font-size="5.2" text-anchor="middle" fill="#111">(4e−04)</text>
<rect x="700.67" y="111.45" width="28.23" height="27.95" fill="#f0a1a4"/>
<text x="714.64" y="124.68" font-size="5.2" text-anchor="middle" fill="#111">0.39</text>
<text x="714.64" y="131.08" font-size="5.2" text-anchor="middle" fill="#111">(4e−23)</text>
<rect x="381.2" y="139.10" width="10.7" height="27.95" fill="#f0e63c"/>
<text x="379.50" y="155.93" font-size="6.3" text-anchor="end" fill="#222">MEyellow</text>
<rect x="393.50" y="139.10" width="28.23" height="27.95" fill="#fae0e1"/>
<text x="407.46" y="152.33" font-size="5.2" text-anchor="middle" fill="#111">0.12</text>
<text x="407.46" y="158.73" font-size="5.2" text-anchor="middle" fill="#111">(0.003)</text>
<rect x="421.43" y="139.10" width="28.23" height="27.95" fill="#fae0e1"/>
<text x="435.39" y="152.33" font-size="5.2" text-anchor="middle" fill="#111">0.13</text>
<text x="435.39" y="158.73" font-size="5.2" text-anchor="middle" fill="#111">(0.001)</text>
<rect x="449.35" y="139.10" width="28.23" height="27.95" fill="#f6faf4"/>
<text x="463.31" y="152.33" font-size="5.2" text-anchor="middle" fill="#111">−0.047</text>
<text x="463.31" y="158.73" font-size="5.2" text-anchor="middle" fill="#111">(0.3)</text>
<rect x="477.27" y="139.10" width="28.23" height="27.95" fill="#ffffff"/>
<text x="491.24" y="152.33" font-size="5.2" text-anchor="middle" fill="#111">0.024</text>
<text x="491.24" y="158.73" font-size="5.2" text-anchor="middle" fill="#111">(0.6)</text>
<rect x="505.20" y="139.10" width="28.23" height="27.95" fill="#fae0e1"/>
<text x="519.16" y="152.33" font-size="5.2" text-anchor="middle" fill="#111">0.14</text>
<text x="519.16" y="158.73" font-size="5.2" text-anchor="middle" fill="#111">(0.001)</text>
<rect x="533.12" y="139.10" width="28.23" height="27.95" fill="#d3e8ca"/>
<text x="547.09" y="152.33" font-size="5.2" text-anchor="middle" fill="#111">−0.24</text>
<text x="547.09" y="158.73" font-size="5.2" text-anchor="middle" fill="#111">(6e−09)</text>
<rect x="561.05" y="139.10" width="28.23" height="27.95" fill="#ffffff"/>
<text x="575.01" y="152.33" font-size="5.2" text-anchor="middle" fill="#111">−0.0035</text>
<text x="575.01" y="158.73" font-size="5.2" text-anchor="middle" fill="#111">(0.9)</text>
<rect x="588.98" y="139.10" width="28.23" height="27.95" fill="#ffffff"/>
<text x="602.94" y="152.33" font-size="5.2" text-anchor="middle" fill="#111">−0.025</text>
<text x="602.94" y="158.73" font-size="5.2" text-anchor="middle" fill="#111">(0.6)</text>
<rect x="616.90" y="139.10" width="28.23" height="27.95" fill="#e5f2df"/>
<text x="630.86" y="152.33" font-size="5.2" text-anchor="middle" fill="#111">−0.13</text>
<text x="630.86" y="158.73" font-size="5.2" text-anchor="middle" fill="#111">(0.002)</text>
<rect x="644.83" y="139.10" width="28.23" height="27.95" fill="#eef6ea"/>
<text x="658.79" y="152.33" font-size="5.2" text-anchor="middle" fill="#111">−0.12</text>
<text x="658.79" y="158.73" font-size="5.2" text-anchor="middle" fill="#111">(0.003)</text>
<rect x="672.75" y="139.10" width="28.23" height="27.95" fill="#fae0e1"/>
<text x="686.71" y="152.33" font-size="5.2" text-anchor="middle" fill="#111">0.12</text>
<text x="686.71" y="158.73" font-size="5.2" text-anchor="middle" fill="#111">(0.004)</text>
<rect x="700.67" y="139.10" width="28.23" height="27.95" fill="#fdf5f5"/>
<text x="714.64" y="152.33" font-size="5.2" text-anchor="middle" fill="#111">0.067</text>
<text x="714.64" y="158.73" font-size="5.2" text-anchor="middle" fill="#111">(0.1)</text>
<rect x="381.2" y="166.75" width="10.7" height="27.95" fill="#bdbdbd"/>
<text x="379.50" y="183.57" font-size="6.3" text-anchor="end" fill="#222">MEgrey</text>
<rect x="393.50" y="166.75" width="28.23" height="27.95" fill="#fceaeb"/>
<text x="407.46" y="179.97" font-size="5.2" text-anchor="middle" fill="#111">0.093</text>
<text x="407.46" y="186.38" font-size="5.2" text-anchor="middle" fill="#111">(0.03)</text>
<rect x="421.43" y="166.75" width="28.23" height="27.95" fill="#f6faf4"/>
<text x="435.39" y="179.97" font-size="5.2" text-anchor="middle" fill="#111">−0.073</text>
<text x="435.39" y="186.38" font-size="5.2" text-anchor="middle" fill="#111">(0.08)</text>
<rect x="449.35" y="166.75" width="28.23" height="27.95" fill="#fae0e1"/>
<text x="463.31" y="179.97" font-size="5.2" text-anchor="middle" fill="#111">0.14</text>
<text x="463.31" y="186.38" font-size="5.2" text-anchor="middle" fill="#111">(8e−04)</text>
<rect x="477.27" y="166.75" width="28.23" height="27.95" fill="#fdf5f5"/>
<text x="491.24" y="179.97" font-size="5.2" text-anchor="middle" fill="#111">0.073</text>
<text x="491.24" y="186.38" font-size="5.2" text-anchor="middle" fill="#111">(0.08)</text>
<rect x="505.20" y="166.75" width="28.23" height="27.95" fill="#fceaeb"/>
<text x="519.16" y="179.97" font-size="5.2" text-anchor="middle" fill="#111">0.095</text>
<text x="519.16" y="186.38" font-size="5.2" text-anchor="middle" fill="#111">(0.02)</text>
<rect x="533.12" y="166.75" width="28.23" height="27.95" fill="#fdf5f5"/>
<text x="547.09" y="179.97" font-size="5.2" text-anchor="middle" fill="#111">0.055</text>
<text x="547.09" y="186.38" font-size="5.2" text-anchor="middle" fill="#111">(0.2)</text>
<rect x="561.05" y="166.75" width="28.23" height="27.95" fill="#ffffff"/>
<text x="575.01" y="179.97" font-size="5.2" text-anchor="middle" fill="#111">0.022</text>
<text x="575.01" y="186.38" font-size="5.2" text-anchor="middle" fill="#111">(0.6)</text>
<rect x="588.98" y="166.75" width="28.23" height="27.95" fill="#fae0e1"/>
<text x="602.94" y="179.97" font-size="5.2" text-anchor="middle" fill="#111">0.15</text>
<text x="602.94" y="186.38" font-size="5.2" text-anchor="middle" fill="#111">(2e−04)</text>
<rect x="616.90" y="166.75" width="28.23" height="27.95" fill="#fdf5f5"/>
<text x="630.86" y="179.97" font-size="5.2" text-anchor="middle" fill="#111">0.049</text>
<text x="630.86" y="186.38" font-size="5.2" text-anchor="middle" fill="#111">(0.2)</text>
<rect x="644.83" y="166.75" width="28.23" height="27.95" fill="#ffffff"/>
<text x="658.79" y="179.97" font-size="5.2" text-anchor="middle" fill="#111">−0.032</text>
<text x="658.79" y="186.38" font-size="5.2" text-anchor="middle" fill="#111">(0.4)</text>
<rect x="672.75" y="166.75" width="28.23" height="27.95" fill="#ffffff"/>
<text x="686.71" y="179.97" font-size="5.2" text-anchor="middle" fill="#111">−0.0039</text>
<text x="686.71" y="186.38" font-size="5.2" text-anchor="middle" fill="#111">(0.9)</text>
<rect x="700.67" y="166.75" width="28.23" height="27.95" fill="#ffffff"/>
<text x="714.64" y="179.97" font-size="5.2" text-anchor="middle" fill="#111">−0.033</text>
<text x="714.64" y="186.38" font-size="5.2" text-anchor="middle" fill="#111">(0.4)</text>
<rect x="393.5" y="28.5" width="335.10" height="165.90" fill="none" stroke="#999" stroke-width="0.8"/>
<text x="409.66" y="201.20" font-size="6.6" text-anchor="end" fill="#222" transform="rotate(-45 409.66 201.20)">METTL14</text>
<text x="437.59" y="201.20" font-size="6.6" text-anchor="end" fill="#222" transform="rotate(-45 437.59 201.20)">WTAP</text>
<text x="465.51" y="201.20" font-size="6.6" text-anchor="end" fill="#222" transform="rotate(-45 465.51 201.20)">RBM15</text>
<text x="493.44" y="201.20" font-size="6.6" text-anchor="end" fill="#222" transform="rotate(-45 493.44 201.20)">YTHDC1</text>
<text x="521.36" y="201.20" font-size="6.6" text-anchor="end" fill="#222" transform="rotate(-45 521.36 201.20)">YTHDC2</text>
<text x="549.29" y="201.20" font-size="6.6" text-anchor="end" fill="#222" transform="rotate(-45 549.29 201.20)">YTHDF1</text>
<text x="577.21" y="201.20" font-size="6.6" text-anchor="end" fill="#222" transform="rotate(-45 577.21 201.20)">YTHDF2</text>
<text x="605.14" y="201.20" font-size="6.6" text-anchor="end" fill="#222" transform="rotate(-45 605.14 201.20)">IGF2BP1</text>
<text x="633.06" y="201.20" font-size="6.6" text-anchor="end" fill="#222" transform="rotate(-45 633.06 201.20)">IGF2BP2</text>
<text x="660.99" y="201.20" font-size="6.6" text-anchor="end" fill="#222" transform="rotate(-45 660.99 201.20)">ALKBH3</text>
<text x="688.91" y="201.20" font-size="6.6" text-anchor="end" fill="#222" transform="rotate(-45 688.91 201.20)">ALKBH5</text>
<text x="716.84" y="201.20" font-size="6.6" text-anchor="end" fill="#222" transform="rotate(-45 716.84 201.20)">FTO</text>
<defs><linearGradient id="cs" x1="0" y1="0" x2="0" y2="1"><stop offset="0" stop-color="#dc1a1a"/><stop offset="0.5" stop-color="#fff"/><stop offset="1" stop-color="#58ab2a"/></linearGradient></defs>
<rect x="732" y="38.9" width="4.7" height="145.6" fill="url(#cs)"/>
<line x1="736.7" y1="38.90" x2="739.5" y2="38.90" stroke="#555" stroke-width="0.6"/>
<text x="742.30" y="41.00" font-size="6" text-anchor="start" fill="#222">1</text>
<line x1="736.7" y1="75.30" x2="739.5" y2="75.30" stroke="#555" stroke-width="0.6"/>
<text x="742.30" y="77.40" font-size="6" text-anchor="start" fill="#222">0.5</text>
<line x1="736.7" y1="111.70" x2="739.5" y2="111.70" stroke="#555" stroke-width="0.6"/>
<text x="742.30" y="113.80" font-size="6" text-anchor="start" fill="#222">0</text>
<line x1="736.7" y1="148.10" x2="739.5" y2="148.10" stroke="#555" stroke-width="0.6"/>
<text x="742.30" y="150.20" font-size="6" text-anchor="start" fill="#222">−0.5</text>
<line x1="736.7" y1="184.50" x2="739.5" y2="184.50" stroke="#555" stroke-width="0.6"/>
<text x="742.30" y="186.60" font-size="6" text-anchor="start" fill="#222">−1</text>
<text x="0.80" y="253.00" font-size="13.8" text-anchor="start" font-weight="bold" fill="#000">C</text>
<text x="137.85" y="256.70" font-size="9" text-anchor="middle" fill="#222">Module membership vs. gene significance</text>
<text x="137.85" y="267.00" font-size="9" text-anchor="middle" fill="#222">cor=0.44, p=5.2e−09</text>
<rect x="36.2" y="273.5" width="203.30" height="181.90" fill="none" stroke="#777" stroke-width="0.9"/>
<line x1="42.40" y1="455.4" x2="42.40" y2="458.70" stroke="#555" stroke-width="0.8"/>
<text x="42.40" y="469.30" font-size="8.4" text-anchor="middle" fill="#222">0.0</text>
<line x1="70.30" y1="455.4" x2="70.30" y2="458.70" stroke="#555" stroke-width="0.8"/>
<text x="70.30" y="469.30" font-size="8.4" text-anchor="middle" fill="#222">0.1</text>
<line x1="98.20" y1="455.4" x2="98.20" y2="458.70" stroke="#555" stroke-width="0.8"/>
<text x="98.20" y="469.30" font-size="8.4" text-anchor="middle" fill="#222">0.2</text>
<line x1="126.10" y1="455.4" x2="126.10" y2="458.70" stroke="#555" stroke-width="0.8"/>
<text x="126.10" y="469.30" font-size="8.4" text-anchor="middle" fill="#222">0.3</text>
<line x1="154.00" y1="455.4" x2="154.00" y2="458.70" stroke="#555" stroke-width="0.8"/>
<text x="154.00" y="469.30" font-size="8.4" text-anchor="middle" fill="#222">0.4</text>
<line x1="181.90" y1="455.4" x2="181.90" y2="458.70" stroke="#555" stroke-width="0.8"/>
<text x="181.90" y="469.30" font-size="8.4" text-anchor="middle" fill="#222">0.5</text>
<line x1="209.80" y1="455.4" x2="209.80" y2="458.70" stroke="#555" stroke-width="0.8"/>
<text x="209.80" y="469.30" font-size="8.4" text-anchor="middle" fill="#222">0.6</text>
<line x1="237.70" y1="455.4" x2="237.70" y2="458.70" stroke="#555" stroke-width="0.8"/>
<text x="237.70" y="469.30" font-size="8.4" text-anchor="middle" fill="#222">0.7</text>
<line x1="31.90" y1="449.30" x2="36.2" y2="449.30" stroke="#555" stroke-width="0.8"/>
<text x="27.60" y="449.30" font-size="8.4" text-anchor="middle" fill="#222" transform="rotate(-90 27.60 449.30)">0.0</text>
<line x1="31.90" y1="418.10" x2="36.2" y2="418.10" stroke="#555" stroke-width="0.8"/>
<text x="27.60" y="418.10" font-size="8.4" text-anchor="middle" fill="#222" transform="rotate(-90 27.60 418.10)">0.1</text>
<line x1="31.90" y1="386.90" x2="36.2" y2="386.90" stroke="#555" stroke-width="0.8"/>
<text x="27.60" y="386.90" font-size="8.4" text-anchor="middle" fill="#222" transform="rotate(-90 27.60 386.90)">0.2</text>
<line x1="31.90" y1="355.70" x2="36.2" y2="355.70" stroke="#555" stroke-width="0.8"/>
<text x="27.60" y="355.70" font-size="8.4" text-anchor="middle" fill="#222" transform="rotate(-90 27.60 355.70)">0.3</text>
<line x1="31.90" y1="324.50" x2="36.2" y2="324.50" stroke="#555" stroke-width="0.8"/>
<text x="27.60" y="324.50" font-size="8.4" text-anchor="middle" fill="#222" transform="rotate(-90 27.60 324.50)">0.4</text>
<line x1="31.90" y1="293.30" x2="36.2" y2="293.30" stroke="#555" stroke-width="0.8"/>
<text x="27.60" y="293.30" font-size="8.4" text-anchor="middle" fill="#222" transform="rotate(-90 27.60 293.30)">0.5</text>
<text x="13.90" y="364.45" font-size="8.3" text-anchor="middle" fill="#222" transform="rotate(-90 13.90 364.45)">Gene significance for&#160; YTHDF1</text>
<text x="137.85" y="482.90" font-size="8.4" text-anchor="middle" fill="#222">Module Membership in blue module</text>
<g fill="none" stroke="#5570be" stroke-width="0.7"><circle cx="123.5" cy="329.5" r="2.5"/><circle cx="135.4" cy="357.7" r="2.5"/><circle cx="226.2" cy="279.6" r="2.5"/><circle cx="161.5" cy="320.9" r="2.5"/><circle cx="162.6" cy="326.4" r="2.5"/><circle cx="199.4" cy="334.3" r="2.5"/><circle cx="169.7" cy="339.4" r="2.5"/><circle cx="177.3" cy="345.3" r="2.5"/><circle cx="164.5" cy="348.5" r="2.5"/><circle cx="168.4" cy="349.4" r="2.5"/><circle cx="163.5" cy="355.4" r="2.5"/><circle cx="168.6" cy="355.6" r="2.5"/><circle cx="199.1" cy="353.6" r="2.5"/><circle cx="145.2" cy="357.3" r="2.5"/><circle cx="45.4" cy="416.9" r="2.5"/><circle cx="43.6" cy="431.6" r="2.5"/><circle cx="45.6" cy="433.0" r="2.5"/><circle cx="54.3" cy="438.5" r="2.5"/><circle cx="59.8" cy="423.6" r="2.5"/><circle cx="63.5" cy="406.8" r="2.5"/><circle cx="65.3" cy="427.1" r="2.5"/><circle cx="65.3" cy="429.6" r="2.5"/><circle cx="71.1" cy="426.4" r="2.5"/><circle cx="71.4" cy="390.3" r="2.5"/><circle cx="73.2" cy="438.5" r="2.5"/><circle cx="69.7" cy="443.3" r="2.5"/><circle cx="69.1" cy="445.7" r="2.5"/><circle cx="60.1" cy="448.2" r="2.5"/><circle cx="62.2" cy="446.8" r="2.5"/><circle cx="63.5" cy="447.5" r="2.5"/><circle cx="76.4" cy="399.9" r="2.5"/><circle cx="81.5" cy="395.1" r="2.5"/><circle cx="84.9" cy="385.9" r="2.5"/><circle cx="90.0" cy="382.0" r="2.5"/><circle cx="87.2" cy="393.1" r="2.5"/><circle cx="89.0" cy="394.4" r="2.5"/><circle cx="91.4" cy="398.6" r="2.5"/><circle cx="87.2" cy="403.0" r="2.5"/><circle cx="86.3" cy="406.8" r="2.5"/><circle cx="89.7" cy="408.5" r="2.5"/><circle cx="93.2" cy="410.3" r="2.5"/><circle cx="96.6" cy="411.7" r="2.5"/><circle cx="98.7" cy="380.9" r="2.5"/><circle cx="101.4" cy="380.0" r="2.5"/><circle cx="102.1" cy="389.3" r="2.5"/><circle cx="107.6" cy="387.3" r="2.5"/><circle cx="110.4" cy="386.2" r="2.5"/><circle cx="113.8" cy="388.7" r="2.5"/><circle cx="107.6" cy="391.0" r="2.5"/><circle cx="112.4" cy="393.1" r="2.5"/><circle cx="115.9" cy="395.1" r="2.5"/><circle cx="105.6" cy="404.1" r="2.5"/><circle cx="108.3" cy="404.8" r="2.5"/><circle cx="111.8" cy="405.5" r="2.5"/><circle cx="111.1" cy="408.2" r="2.5"/><circle cx="118.0" cy="402.4" r="2.5"/><circle cx="125.5" cy="397.9" r="2.5"/><circle cx="130.8" cy="395.1" r="2.5"/><circle cx="132.4" cy="400.2" r="2.5"/><circle cx="133.5" cy="411.7" r="2.5"/><circle cx="78.7" cy="419.5" r="2.5"/><circle cx="84.5" cy="418.5" r="2.5"/><circle cx="93.2" cy="418.1" r="2.5"/><circle cx="102.8" cy="419.2" r="2.5"/><circle cx="106.9" cy="421.3" r="2.5"/><circle cx="109.0" cy="420.6" r="2.5"/><circle cx="111.5" cy="418.5" r="2.5"/><circle cx="78.0" cy="425.0" r="2.5"/><circle cx="83.5" cy="423.4" r="2.5"/><circle cx="91.8" cy="423.4" r="2.5"/><circle cx="98.7" cy="424.0" r="2.5"/><circle cx="102.4" cy="424.7" r="2.5"/><circle cx="80.4" cy="431.6" r="2.5"/><circle cx="84.5" cy="429.1" r="2.5"/><circle cx="87.0" cy="431.6" r="2.5"/><circle cx="92.7" cy="430.9" r="2.5"/><circle cx="110.4" cy="427.5" r="2.5"/><circle cx="111.1" cy="428.9" r="2.5"/><circle cx="114.8" cy="425.0" r="2.5"/><circle cx="119.3" cy="426.1" r="2.5"/><circle cx="129.7" cy="420.2" r="2.5"/><circle cx="129.7" cy="424.7" r="2.5"/><circle cx="84.2" cy="438.2" r="2.5"/><circle cx="88.3" cy="438.2" r="2.5"/><circle cx="91.8" cy="437.1" r="2.5"/><circle cx="96.6" cy="436.4" r="2.5"/><circle cx="97.3" cy="435.8" r="2.5"/><circle cx="101.4" cy="436.0" r="2.5"/><circle cx="104.9" cy="434.4" r="2.5"/><circle cx="95.9" cy="440.6" r="2.5"/><circle cx="110.4" cy="435.1" r="2.5"/><circle cx="112.4" cy="437.1" r="2.5"/><circle cx="116.6" cy="437.4" r="2.5"/><circle cx="119.3" cy="437.8" r="2.5"/><circle cx="122.1" cy="432.3" r="2.5"/><circle cx="119.3" cy="441.5" r="2.5"/><circle cx="129.7" cy="431.3" r="2.5"/><circle cx="130.8" cy="434.4" r="2.5"/><circle cx="128.3" cy="439.6" r="2.5"/><circle cx="134.1" cy="444.7" r="2.5"/><circle cx="83.5" cy="446.5" r="2.5"/><circle cx="86.3" cy="448.2" r="2.5"/><circle cx="87.7" cy="447.1" r="2.5"/><circle cx="111.8" cy="448.2" r="2.5"/><circle cx="123.1" cy="448.2" r="2.5"/><circle cx="159.4" cy="364.8" r="2.5"/><circle cx="149.8" cy="370.7" r="2.5"/><circle cx="140.8" cy="374.5" r="2.5"/><circle cx="142.6" cy="374.2" r="2.5"/><circle cx="145.4" cy="376.3" r="2.5"/><circle cx="140.8" cy="380.4" r="2.5"/><circle cx="140.8" cy="383.7" r="2.5"/><circle cx="153.9" cy="385.9" r="2.5"/><circle cx="155.6" cy="384.8" r="2.5"/><circle cx="152.5" cy="393.1" r="2.5"/><circle cx="155.3" cy="392.0" r="2.5"/><circle cx="159.7" cy="397.2" r="2.5"/><circle cx="162.9" cy="394.4" r="2.5"/><circle cx="164.9" cy="392.4" r="2.5"/><circle cx="155.3" cy="399.3" r="2.5"/><circle cx="164.2" cy="401.0" r="2.5"/><circle cx="164.9" cy="404.8" r="2.5"/><circle cx="149.4" cy="401.3" r="2.5"/><circle cx="150.5" cy="405.5" r="2.5"/><circle cx="149.4" cy="408.9" r="2.5"/><circle cx="141.2" cy="413.4" r="2.5"/><circle cx="148.4" cy="413.7" r="2.5"/><circle cx="158.0" cy="411.2" r="2.5"/><circle cx="158.0" cy="417.2" r="2.5"/><circle cx="158.0" cy="419.9" r="2.5"/><circle cx="158.7" cy="419.0" r="2.5"/><circle cx="167.4" cy="419.9" r="2.5"/><circle cx="175.3" cy="418.1" r="2.5"/><circle cx="175.9" cy="419.2" r="2.5"/><circle cx="177.3" cy="417.6" r="2.5"/><circle cx="178.4" cy="412.1" r="2.5"/><circle cx="180.5" cy="423.1" r="2.5"/><circle cx="189.7" cy="419.2" r="2.5"/><circle cx="182.1" cy="380.0" r="2.5"/><circle cx="198.3" cy="397.5" r="2.5"/><circle cx="206.9" cy="389.2" r="2.5"/><circle cx="221.4" cy="390.3" r="2.5"/><circle cx="232.4" cy="415.4" r="2.5"/><circle cx="208.3" cy="423.6" r="2.5"/><circle cx="209.0" cy="422.7" r="2.5"/><circle cx="141.5" cy="423.6" r="2.5"/><circle cx="141.2" cy="426.8" r="2.5"/><circle cx="141.5" cy="433.3" r="2.5"/><circle cx="161.1" cy="430.5" r="2.5"/><circle cx="157.3" cy="437.4" r="2.5"/><circle cx="148.4" cy="440.6" r="2.5"/><circle cx="167.7" cy="447.1" r="2.5"/><circle cx="171.5" cy="446.5" r="2.5"/><circle cx="204.5" cy="442.2" r="2.5"/></g>
<text x="259.50" y="252.90" font-size="13.8" text-anchor="start" font-weight="bold" fill="#000">D</text>
<text x="388.40" y="256.70" font-size="9" text-anchor="middle" fill="#222">Module membership vs. gene significance</text>
<text x="388.40" y="267.00" font-size="9" text-anchor="middle" fill="#222">cor=0.49, p=4.2e−11</text>
<rect x="286.4" y="273.5" width="204.00" height="181.90" fill="none" stroke="#777" stroke-width="0.9"/>
<line x1="292.50" y1="455.4" x2="292.50" y2="458.70" stroke="#555" stroke-width="0.8"/>
<text x="292.50" y="469.30" font-size="8.4" text-anchor="middle" fill="#222">0.0</text>
<line x1="320.40" y1="455.4" x2="320.40" y2="458.70" stroke="#555" stroke-width="0.8"/>
<text x="320.40" y="469.30" font-size="8.4" text-anchor="middle" fill="#222">0.1</text>
<line x1="348.30" y1="455.4" x2="348.30" y2="458.70" stroke="#555" stroke-width="0.8"/>
<text x="348.30" y="469.30" font-size="8.4" text-anchor="middle" fill="#222">0.2</text>
<line x1="376.20" y1="455.4" x2="376.20" y2="458.70" stroke="#555" stroke-width="0.8"/>
<text x="376.20" y="469.30" font-size="8.4" text-anchor="middle" fill="#222">0.3</text>
<line x1="404.10" y1="455.4" x2="404.10" y2="458.70" stroke="#555" stroke-width="0.8"/>
<text x="404.10" y="469.30" font-size="8.4" text-anchor="middle" fill="#222">0.4</text>
<line x1="432.00" y1="455.4" x2="432.00" y2="458.70" stroke="#555" stroke-width="0.8"/>
<text x="432.00" y="469.30" font-size="8.4" text-anchor="middle" fill="#222">0.5</text>
<line x1="459.90" y1="455.4" x2="459.90" y2="458.70" stroke="#555" stroke-width="0.8"/>
<text x="459.90" y="469.30" font-size="8.4" text-anchor="middle" fill="#222">0.6</text>
<line x1="487.80" y1="455.4" x2="487.80" y2="458.70" stroke="#555" stroke-width="0.8"/>
<text x="487.80" y="469.30" font-size="8.4" text-anchor="middle" fill="#222">0.7</text>
<line x1="282.10" y1="449.30" x2="286.4" y2="449.30" stroke="#555" stroke-width="0.8"/>
<text x="277.80" y="449.30" font-size="8.4" text-anchor="middle" fill="#222" transform="rotate(-90 277.80 449.30)">0.00</text>
<line x1="282.10" y1="417.30" x2="286.4" y2="417.30" stroke="#555" stroke-width="0.8"/>
<text x="277.80" y="417.30" font-size="8.4" text-anchor="middle" fill="#222" transform="rotate(-90 277.80 417.30)">0.05</text>
<line x1="282.10" y1="385.30" x2="286.4" y2="385.30" stroke="#555" stroke-width="0.8"/>
<text x="277.80" y="385.30" font-size="8.4" text-anchor="middle" fill="#222" transform="rotate(-90 277.80 385.30)">0.10</text>
<line x1="282.10" y1="353.30" x2="286.4" y2="353.30" stroke="#555" stroke-width="0.8"/>
<text x="277.80" y="353.30" font-size="8.4" text-anchor="middle" fill="#222" transform="rotate(-90 277.80 353.30)">0.15</text>
<line x1="282.10" y1="321.30" x2="286.4" y2="321.30" stroke="#555" stroke-width="0.8"/>
<text x="277.80" y="321.30" font-size="8.4" text-anchor="middle" fill="#222" transform="rotate(-90 277.80 321.30)">0.20</text>
<line x1="282.10" y1="289.30" x2="286.4" y2="289.30" stroke="#555" stroke-width="0.8"/>
<text x="277.80" y="289.30" font-size="8.4" text-anchor="middle" fill="#222" transform="rotate(-90 277.80 289.30)">0.25</text>
<text x="264.10" y="364.45" font-size="8.3" text-anchor="middle" fill="#222" transform="rotate(-90 264.10 364.45)">Gene significance for&#160; ALKBH3</text>
<text x="388.40" y="482.90" font-size="8.4" text-anchor="middle" fill="#222">Module Membership in blue module</text>
<g fill="none" stroke="#5570be" stroke-width="0.7"><circle cx="374.2" cy="301.9" r="2.5"/><circle cx="386.3" cy="305.4" r="2.5"/><circle cx="381.0" cy="320.2" r="2.5"/><circle cx="361.5" cy="332.2" r="2.5"/><circle cx="321.5" cy="343.2" r="2.5"/><circle cx="323.9" cy="343.9" r="2.5"/><circle cx="358.3" cy="342.3" r="2.5"/><circle cx="363.4" cy="346.7" r="2.5"/><circle cx="376.2" cy="343.0" r="2.5"/><circle cx="341.8" cy="348.1" r="2.5"/><circle cx="358.3" cy="351.2" r="2.5"/><circle cx="352.5" cy="354.5" r="2.5"/><circle cx="313.5" cy="355.6" r="2.5"/><circle cx="340.4" cy="359.5" r="2.5"/><circle cx="335.3" cy="360.9" r="2.5"/><circle cx="348.9" cy="360.5" r="2.5"/><circle cx="383.1" cy="358.8" r="2.5"/><circle cx="366.6" cy="363.9" r="2.5"/><circle cx="368.0" cy="363.6" r="2.5"/><circle cx="392.5" cy="279.6" r="2.5"/><circle cx="413.5" cy="279.9" r="2.5"/><circle cx="476.6" cy="281.5" r="2.5"/><circle cx="412.2" cy="295.0" r="2.5"/><circle cx="414.7" cy="310.2" r="2.5"/><circle cx="419.3" cy="318.0" r="2.5"/><circle cx="427.3" cy="320.2" r="2.5"/><circle cx="415.3" cy="322.3" r="2.5"/><circle cx="417.7" cy="327.0" r="2.5"/><circle cx="432.6" cy="327.0" r="2.5"/><circle cx="457.3" cy="323.4" r="2.5"/><circle cx="448.9" cy="328.8" r="2.5"/><circle cx="472.1" cy="329.5" r="2.5"/><circle cx="401.4" cy="331.8" r="2.5"/><circle cx="414.2" cy="336.4" r="2.5"/><circle cx="393.6" cy="340.5" r="2.5"/><circle cx="395.6" cy="341.9" r="2.5"/><circle cx="403.9" cy="345.3" r="2.5"/><circle cx="403.2" cy="344.9" r="2.5"/><circle cx="410.4" cy="341.9" r="2.5"/><circle cx="428.4" cy="345.7" r="2.5"/><circle cx="425.5" cy="348.8" r="2.5"/><circle cx="415.3" cy="350.4" r="2.5"/><circle cx="420.4" cy="351.5" r="2.5"/><circle cx="418.4" cy="355.0" r="2.5"/><circle cx="449.4" cy="347.7" r="2.5"/><circle cx="458.6" cy="347.4" r="2.5"/><circle cx="482.8" cy="357.4" r="2.5"/><circle cx="400.5" cy="360.5" r="2.5"/><circle cx="406.0" cy="362.3" r="2.5"/><circle cx="409.7" cy="363.5" r="2.5"/><circle cx="429.4" cy="363.6" r="2.5"/><circle cx="334.2" cy="371.0" r="2.5"/><circle cx="343.6" cy="370.3" r="2.5"/><circle cx="337.0" cy="377.2" r="2.5"/><circle cx="357.3" cy="373.1" r="2.5"/><circle cx="359.0" cy="378.6" r="2.5"/><circle cx="361.1" cy="380.7" r="2.5"/><circle cx="362.4" cy="381.3" r="2.5"/><circle cx="364.2" cy="377.2" r="2.5"/><circle cx="353.5" cy="382.0" r="2.5"/><circle cx="360.4" cy="387.1" r="2.5"/><circle cx="368.4" cy="390.3" r="2.5"/><circle cx="380.4" cy="385.9" r="2.5"/><circle cx="380.4" cy="391.3" r="2.5"/><circle cx="347.3" cy="390.0" r="2.5"/><circle cx="349.4" cy="390.6" r="2.5"/><circle cx="348.3" cy="394.8" r="2.5"/><circle cx="352.4" cy="398.8" r="2.5"/><circle cx="361.3" cy="397.2" r="2.5"/><circle cx="335.2" cy="394.2" r="2.5"/><circle cx="338.3" cy="399.0" r="2.5"/><circle cx="313.5" cy="401.0" r="2.5"/><circle cx="316.3" cy="399.0" r="2.5"/><circle cx="295.6" cy="402.7" r="2.5"/><circle cx="296.3" cy="405.2" r="2.5"/><circle cx="294.3" cy="410.3" r="2.5"/><circle cx="296.7" cy="413.0" r="2.5"/><circle cx="331.2" cy="406.4" r="2.5"/><circle cx="345.5" cy="407.9" r="2.5"/><circle cx="354.9" cy="412.3" r="2.5"/><circle cx="358.3" cy="408.2" r="2.5"/><circle cx="360.4" cy="411.7" r="2.5"/><circle cx="361.8" cy="406.6" r="2.5"/><circle cx="364.5" cy="404.4" r="2.5"/><circle cx="370.3" cy="408.5" r="2.5"/><circle cx="369.6" cy="413.0" r="2.5"/><circle cx="379.0" cy="416.5" r="2.5"/><circle cx="384.5" cy="418.5" r="2.5"/><circle cx="310.1" cy="422.3" r="2.5"/><circle cx="314.2" cy="421.3" r="2.5"/><circle cx="319.7" cy="422.7" r="2.5"/><circle cx="321.5" cy="423.4" r="2.5"/><circle cx="312.2" cy="430.2" r="2.5"/><circle cx="316.3" cy="429.1" r="2.5"/><circle cx="332.1" cy="427.1" r="2.5"/><circle cx="333.9" cy="428.2" r="2.5"/><circle cx="338.1" cy="428.2" r="2.5"/><circle cx="342.2" cy="427.5" r="2.5"/><circle cx="338.1" cy="432.3" r="2.5"/><circle cx="329.4" cy="434.4" r="2.5"/><circle cx="335.6" cy="435.5" r="2.5"/><circle cx="347.3" cy="433.0" r="2.5"/><circle cx="351.4" cy="435.1" r="2.5"/><circle cx="352.1" cy="434.1" r="2.5"/><circle cx="356.2" cy="432.6" r="2.5"/><circle cx="304.6" cy="436.2" r="2.5"/><circle cx="310.1" cy="436.2" r="2.5"/><circle cx="321.1" cy="438.5" r="2.5"/><circle cx="336.3" cy="439.2" r="2.5"/><circle cx="337.0" cy="442.0" r="2.5"/><circle cx="340.4" cy="439.9" r="2.5"/><circle cx="343.9" cy="439.2" r="2.5"/><circle cx="346.6" cy="437.8" r="2.5"/><circle cx="341.8" cy="443.3" r="2.5"/><circle cx="343.2" cy="442.4" r="2.5"/><circle cx="327.3" cy="442.4" r="2.5"/><circle cx="328.7" cy="448.2" r="2.5"/><circle cx="336.3" cy="448.8" r="2.5"/><circle cx="337.7" cy="448.2" r="2.5"/><circle cx="340.8" cy="447.1" r="2.5"/><circle cx="361.8" cy="443.3" r="2.5"/><circle cx="365.5" cy="439.6" r="2.5"/><circle cx="369.3" cy="435.5" r="2.5"/><circle cx="372.8" cy="436.4" r="2.5"/><circle cx="373.5" cy="424.7" r="2.5"/><circle cx="380.4" cy="431.2" r="2.5"/><circle cx="384.1" cy="434.0" r="2.5"/><circle cx="380.4" cy="439.2" r="2.5"/><circle cx="362.2" cy="448.2" r="2.5"/><circle cx="440.4" cy="372.4" r="2.5"/><circle cx="449.8" cy="373.4" r="2.5"/><circle cx="391.8" cy="380.0" r="2.5"/><circle cx="391.5" cy="383.4" r="2.5"/><circle cx="391.5" cy="387.5" r="2.5"/><circle cx="395.6" cy="389.6" r="2.5"/><circle cx="408.0" cy="377.2" r="2.5"/><circle cx="411.5" cy="378.9" r="2.5"/><circle cx="409.1" cy="380.7" r="2.5"/><circle cx="409.7" cy="384.1" r="2.5"/><circle cx="431.5" cy="379.3" r="2.5"/><circle cx="460.0" cy="391.3" r="2.5"/><circle cx="398.4" cy="395.1" r="2.5"/><circle cx="399.4" cy="397.5" r="2.5"/><circle cx="405.3" cy="398.6" r="2.5"/><circle cx="408.0" cy="404.4" r="2.5"/><circle cx="421.8" cy="405.0" r="2.5"/><circle cx="399.8" cy="412.3" r="2.5"/><circle cx="406.0" cy="413.4" r="2.5"/><circle cx="418.4" cy="412.3" r="2.5"/><circle cx="426.2" cy="412.8" r="2.5"/><circle cx="413.5" cy="420.2" r="2.5"/><circle cx="454.9" cy="420.3" r="2.5"/><circle cx="391.5" cy="423.4" r="2.5"/><circle cx="391.5" cy="424.7" r="2.5"/><circle cx="415.3" cy="430.5" r="2.5"/><circle cx="408.3" cy="437.4" r="2.5"/><circle cx="392.2" cy="444.3" r="2.5"/><circle cx="400.5" cy="443.7" r="2.5"/></g>
<text x="501.20" y="252.90" font-size="13.8" text-anchor="start" font-weight="bold" fill="#000">E</text>
<text x="639.25" y="256.70" font-size="9" text-anchor="middle" fill="#222">Module membership vs. gene significance</text>
<text x="639.25" y="267.00" font-size="9" text-anchor="middle" fill="#222">cor=0.67, p=2.5e−22</text>
<rect x="537.4" y="273.5" width="203.70" height="181.90" fill="none" stroke="#777" stroke-width="0.9"/>
<line x1="543.40" y1="455.4" x2="543.40" y2="458.70" stroke="#555" stroke-width="0.8"/>
<text x="543.40" y="469.30" font-size="8.4" text-anchor="middle" fill="#222">0.0</text>
<line x1="571.30" y1="455.4" x2="571.30" y2="458.70" stroke="#555" stroke-width="0.8"/>
<text x="571.30" y="469.30" font-size="8.4" text-anchor="middle" fill="#222">0.1</text>
<line x1="599.20" y1="455.4" x2="599.20" y2="458.70" stroke="#555" stroke-width="0.8"/>
<text x="599.20" y="469.30" font-size="8.4" text-anchor="middle" fill="#222">0.2</text>
<line x1="627.10" y1="455.4" x2="627.10" y2="458.70" stroke="#555" stroke-width="0.8"/>
<text x="627.10" y="469.30" font-size="8.4" text-anchor="middle" fill="#222">0.3</text>
<line x1="655.00" y1="455.4" x2="655.00" y2="458.70" stroke="#555" stroke-width="0.8"/>
<text x="655.00" y="469.30" font-size="8.4" text-anchor="middle" fill="#222">0.4</text>
<line x1="682.90" y1="455.4" x2="682.90" y2="458.70" stroke="#555" stroke-width="0.8"/>
<text x="682.90" y="469.30" font-size="8.4" text-anchor="middle" fill="#222">0.5</text>
<line x1="710.80" y1="455.4" x2="710.80" y2="458.70" stroke="#555" stroke-width="0.8"/>
<text x="710.80" y="469.30" font-size="8.4" text-anchor="middle" fill="#222">0.6</text>
<line x1="738.70" y1="455.4" x2="738.70" y2="458.70" stroke="#555" stroke-width="0.8"/>
<text x="738.70" y="469.30" font-size="8.4" text-anchor="middle" fill="#222">0.7</text>
<line x1="533.10" y1="449.30" x2="537.4" y2="449.30" stroke="#555" stroke-width="0.8"/>
<text x="528.80" y="449.30" font-size="8.4" text-anchor="middle" fill="#222" transform="rotate(-90 528.80 449.30)">0.00</text>
<line x1="533.10" y1="423.60" x2="537.4" y2="423.60" stroke="#555" stroke-width="0.8"/>
<text x="528.80" y="423.60" font-size="8.4" text-anchor="middle" fill="#222" transform="rotate(-90 528.80 423.60)">0.05</text>
<line x1="533.10" y1="397.90" x2="537.4" y2="397.90" stroke="#555" stroke-width="0.8"/>
<text x="528.80" y="397.90" font-size="8.4" text-anchor="middle" fill="#222" transform="rotate(-90 528.80 397.90)">0.10</text>
<line x1="533.10" y1="372.20" x2="537.4" y2="372.20" stroke="#555" stroke-width="0.8"/>
<text x="528.80" y="372.20" font-size="8.4" text-anchor="middle" fill="#222" transform="rotate(-90 528.80 372.20)">0.15</text>
<line x1="533.10" y1="346.50" x2="537.4" y2="346.50" stroke="#555" stroke-width="0.8"/>
<text x="528.80" y="346.50" font-size="8.4" text-anchor="middle" fill="#222" transform="rotate(-90 528.80 346.50)">0.20</text>
<line x1="533.10" y1="320.80" x2="537.4" y2="320.80" stroke="#555" stroke-width="0.8"/>
<text x="528.80" y="320.80" font-size="8.4" text-anchor="middle" fill="#222" transform="rotate(-90 528.80 320.80)">0.25</text>
<line x1="533.10" y1="295.10" x2="537.4" y2="295.10" stroke="#555" stroke-width="0.8"/>
<text x="528.80" y="295.10" font-size="8.4" text-anchor="middle" fill="#222" transform="rotate(-90 528.80 295.10)">0.30</text>
<text x="515.10" y="364.45" font-size="8.3" text-anchor="middle" fill="#222" transform="rotate(-90 515.10 364.45)">Gene significance for&#160; ALKBH5</text>
<text x="639.25" y="482.90" font-size="8.4" text-anchor="middle" fill="#222">Module Membership in blue module</text>
<g fill="none" stroke="#5570be" stroke-width="0.7"><circle cx="612.5" cy="324.7" r="2.5"/><circle cx="614.4" cy="324.7" r="2.5"/><circle cx="613.2" cy="329.5" r="2.5"/><circle cx="631.4" cy="330.6" r="2.5"/><circle cx="608.6" cy="341.2" r="2.5"/><circle cx="612.1" cy="349.4" r="2.5"/><circle cx="611.4" cy="352.6" r="2.5"/><circle cx="615.9" cy="351.5" r="2.5"/><circle cx="623.1" cy="351.5" r="2.5"/><circle cx="630.7" cy="353.2" r="2.5"/><circle cx="634.4" cy="356.3" r="2.5"/><circle cx="636.4" cy="360.5" r="2.5"/><circle cx="602.8" cy="362.3" r="2.5"/><circle cx="603.1" cy="363.9" r="2.5"/><circle cx="611.4" cy="364.6" r="2.5"/><circle cx="619.0" cy="364.6" r="2.5"/><circle cx="623.8" cy="364.6" r="2.5"/><circle cx="630.7" cy="365.0" r="2.5"/><circle cx="727.2" cy="279.6" r="2.5"/><circle cx="700.4" cy="287.2" r="2.5"/><circle cx="663.9" cy="290.2" r="2.5"/><circle cx="654.9" cy="294.3" r="2.5"/><circle cx="656.3" cy="293.4" r="2.5"/><circle cx="660.7" cy="297.5" r="2.5"/><circle cx="678.3" cy="299.2" r="2.5"/><circle cx="690.7" cy="299.2" r="2.5"/><circle cx="722.4" cy="300.3" r="2.5"/><circle cx="733.4" cy="303.6" r="2.5"/><circle cx="669.0" cy="309.2" r="2.5"/><circle cx="651.5" cy="315.4" r="2.5"/><circle cx="679.4" cy="315.4" r="2.5"/><circle cx="642.8" cy="320.1" r="2.5"/><circle cx="650.5" cy="320.5" r="2.5"/><circle cx="659.3" cy="318.7" r="2.5"/><circle cx="663.9" cy="322.3" r="2.5"/><circle cx="670.7" cy="319.6" r="2.5"/><circle cx="705.5" cy="324.2" r="2.5"/><circle cx="699.3" cy="330.2" r="2.5"/><circle cx="707.9" cy="332.9" r="2.5"/><circle cx="658.3" cy="331.5" r="2.5"/><circle cx="660.4" cy="331.1" r="2.5"/><circle cx="668.4" cy="328.8" r="2.5"/><circle cx="669.6" cy="331.5" r="2.5"/><circle cx="643.6" cy="334.3" r="2.5"/><circle cx="642.2" cy="338.4" r="2.5"/><circle cx="642.1" cy="341.9" r="2.5"/><circle cx="650.1" cy="347.8" r="2.5"/><circle cx="655.6" cy="344.9" r="2.5"/><circle cx="659.0" cy="343.9" r="2.5"/><circle cx="659.0" cy="346.7" r="2.5"/><circle cx="665.2" cy="345.3" r="2.5"/><circle cx="672.5" cy="346.3" r="2.5"/><circle cx="658.8" cy="352.2" r="2.5"/><circle cx="700.4" cy="354.3" r="2.5"/><circle cx="641.8" cy="358.1" r="2.5"/><circle cx="683.1" cy="359.5" r="2.5"/><circle cx="653.5" cy="361.8" r="2.5"/><circle cx="648.7" cy="364.2" r="2.5"/><circle cx="629.6" cy="366.6" r="2.5"/><circle cx="592.8" cy="369.0" r="2.5"/><circle cx="592.4" cy="371.0" r="2.5"/><circle cx="599.0" cy="370.7" r="2.5"/><circle cx="599.7" cy="371.3" r="2.5"/><circle cx="609.3" cy="369.9" r="2.5"/><circle cx="602.4" cy="374.5" r="2.5"/><circle cx="609.3" cy="373.8" r="2.5"/><circle cx="597.2" cy="376.5" r="2.5"/><circle cx="612.1" cy="376.3" r="2.5"/><circle cx="589.8" cy="379.3" r="2.5"/><circle cx="592.8" cy="380.7" r="2.5"/><circle cx="610.7" cy="382.0" r="2.5"/><circle cx="613.4" cy="382.0" r="2.5"/><circle cx="615.5" cy="382.7" r="2.5"/><circle cx="620.1" cy="384.8" r="2.5"/><circle cx="624.7" cy="385.2" r="2.5"/><circle cx="633.4" cy="383.4" r="2.5"/><circle cx="635.1" cy="383.4" r="2.5"/><circle cx="544.6" cy="383.1" r="2.5"/><circle cx="574.2" cy="387.3" r="2.5"/><circle cx="588.0" cy="392.4" r="2.5"/><circle cx="594.2" cy="392.6" r="2.5"/><circle cx="599.7" cy="393.1" r="2.5"/><circle cx="601.7" cy="389.6" r="2.5"/><circle cx="604.5" cy="392.4" r="2.5"/><circle cx="605.9" cy="392.6" r="2.5"/><circle cx="608.6" cy="396.5" r="2.5"/><circle cx="596.2" cy="396.5" r="2.5"/><circle cx="626.5" cy="396.1" r="2.5"/><circle cx="582.5" cy="397.9" r="2.5"/><circle cx="584.9" cy="401.6" r="2.5"/><circle cx="578.3" cy="404.8" r="2.5"/><circle cx="581.8" cy="405.2" r="2.5"/><circle cx="588.2" cy="406.1" r="2.5"/><circle cx="589.1" cy="408.2" r="2.5"/><circle cx="594.2" cy="402.0" r="2.5"/><circle cx="606.6" cy="404.4" r="2.5"/><circle cx="613.0" cy="402.4" r="2.5"/><circle cx="631.4" cy="407.5" r="2.5"/><circle cx="546.4" cy="402.7" r="2.5"/><circle cx="546.4" cy="406.8" r="2.5"/><circle cx="560.7" cy="403.4" r="2.5"/><circle cx="561.1" cy="410.7" r="2.5"/><circle cx="577.4" cy="411.2" r="2.5"/><circle cx="597.6" cy="414.4" r="2.5"/><circle cx="620.3" cy="412.6" r="2.5"/><circle cx="546.6" cy="418.5" r="2.5"/><circle cx="585.5" cy="417.2" r="2.5"/><circle cx="589.1" cy="417.9" r="2.5"/><circle cx="584.5" cy="422.3" r="2.5"/><circle cx="587.3" cy="422.7" r="2.5"/><circle cx="588.2" cy="424.7" r="2.5"/><circle cx="564.5" cy="423.4" r="2.5"/><circle cx="563.9" cy="428.2" r="2.5"/><circle cx="571.4" cy="430.2" r="2.5"/><circle cx="572.5" cy="428.9" r="2.5"/><circle cx="555.2" cy="432.3" r="2.5"/><circle cx="585.2" cy="428.9" r="2.5"/><circle cx="586.6" cy="431.6" r="2.5"/><circle cx="607.7" cy="422.7" r="2.5"/><circle cx="618.0" cy="424.0" r="2.5"/><circle cx="630.7" cy="425.8" r="2.5"/><circle cx="616.6" cy="431.6" r="2.5"/><circle cx="585.5" cy="438.5" r="2.5"/><circle cx="591.0" cy="439.9" r="2.5"/><circle cx="593.7" cy="442.6" r="2.5"/><circle cx="591.4" cy="445.4" r="2.5"/><circle cx="597.6" cy="446.1" r="2.5"/><circle cx="572.1" cy="438.5" r="2.5"/><circle cx="570.1" cy="442.0" r="2.5"/><circle cx="566.6" cy="444.7" r="2.5"/><circle cx="562.9" cy="447.5" r="2.5"/><circle cx="567.0" cy="449.3" r="2.5"/><circle cx="579.4" cy="448.4" r="2.5"/><circle cx="587.3" cy="448.2" r="2.5"/><circle cx="612.1" cy="440.6" r="2.5"/><circle cx="621.0" cy="448.4" r="2.5"/><circle cx="656.3" cy="368.0" r="2.5"/><circle cx="665.9" cy="368.3" r="2.5"/><circle cx="642.2" cy="371.7" r="2.5"/><circle cx="642.5" cy="372.7" r="2.5"/><circle cx="650.4" cy="371.4" r="2.5"/><circle cx="665.2" cy="377.9" r="2.5"/><circle cx="668.7" cy="376.3" r="2.5"/><circle cx="646.0" cy="383.4" r="2.5"/><circle cx="709.3" cy="381.3" r="2.5"/><circle cx="710.4" cy="385.5" r="2.5"/><circle cx="675.6" cy="391.0" r="2.5"/><circle cx="676.9" cy="400.2" r="2.5"/><circle cx="678.3" cy="399.3" r="2.5"/><circle cx="646.2" cy="405.2" r="2.5"/><circle cx="641.8" cy="409.9" r="2.5"/><circle cx="662.5" cy="405.5" r="2.5"/><circle cx="664.5" cy="403.4" r="2.5"/><circle cx="663.2" cy="406.6" r="2.5"/><circle cx="681.8" cy="410.6" r="2.5"/><circle cx="665.7" cy="415.8" r="2.5"/><circle cx="649.4" cy="421.3" r="2.5"/></g>
<text x="0.80" y="499.60" font-size="13.8" text-anchor="start" font-weight="bold" fill="#000">F</text>
<text x="138.40" y="501.90" font-size="9" text-anchor="middle" fill="#222">Module membership vs. gene significance</text>
<text x="138.40" y="512.20" font-size="9" text-anchor="middle" fill="#222">cor=0.47, p=7.8e−10</text>
<rect x="36.4" y="518.4" width="204.00" height="182.90" fill="none" stroke="#777" stroke-width="0.9"/>
<line x1="39.50" y1="701.3" x2="39.50" y2="704.60" stroke="#555" stroke-width="0.8"/>
<text x="39.50" y="715.20" font-size="8.4" text-anchor="middle" fill="#222">0.0</text>
<line x1="69.30" y1="701.3" x2="69.30" y2="704.60" stroke="#555" stroke-width="0.8"/>
<text x="69.30" y="715.20" font-size="8.4" text-anchor="middle" fill="#222">0.1</text>
<line x1="99.10" y1="701.3" x2="99.10" y2="704.60" stroke="#555" stroke-width="0.8"/>
<text x="99.10" y="715.20" font-size="8.4" text-anchor="middle" fill="#222">0.2</text>
<line x1="128.90" y1="701.3" x2="128.90" y2="704.60" stroke="#555" stroke-width="0.8"/>
<text x="128.90" y="715.20" font-size="8.4" text-anchor="middle" fill="#222">0.3</text>
<line x1="158.70" y1="701.3" x2="158.70" y2="704.60" stroke="#555" stroke-width="0.8"/>
<text x="158.70" y="715.20" font-size="8.4" text-anchor="middle" fill="#222">0.4</text>
<line x1="188.50" y1="701.3" x2="188.50" y2="704.60" stroke="#555" stroke-width="0.8"/>
<text x="188.50" y="715.20" font-size="8.4" text-anchor="middle" fill="#222">0.5</text>
<line x1="218.30" y1="701.3" x2="218.30" y2="704.60" stroke="#555" stroke-width="0.8"/>
<text x="218.30" y="715.20" font-size="8.4" text-anchor="middle" fill="#222">0.6</text>
<line x1="32.10" y1="694.30" x2="36.4" y2="694.30" stroke="#555" stroke-width="0.8"/>
<text x="27.80" y="694.30" font-size="8.4" text-anchor="middle" fill="#222" transform="rotate(-90 27.80 694.30)">0.0</text>
<line x1="32.10" y1="660.00" x2="36.4" y2="660.00" stroke="#555" stroke-width="0.8"/>
<text x="27.80" y="660.00" font-size="8.4" text-anchor="middle" fill="#222" transform="rotate(-90 27.80 660.00)">0.1</text>
<line x1="32.10" y1="625.70" x2="36.4" y2="625.70" stroke="#555" stroke-width="0.8"/>
<text x="27.80" y="625.70" font-size="8.4" text-anchor="middle" fill="#222" transform="rotate(-90 27.80 625.70)">0.2</text>
<line x1="32.10" y1="591.40" x2="36.4" y2="591.40" stroke="#555" stroke-width="0.8"/>
<text x="27.80" y="591.40" font-size="8.4" text-anchor="middle" fill="#222" transform="rotate(-90 27.80 591.40)">0.3</text>
<line x1="32.10" y1="557.10" x2="36.4" y2="557.10" stroke="#555" stroke-width="0.8"/>
<text x="27.80" y="557.10" font-size="8.4" text-anchor="middle" fill="#222" transform="rotate(-90 27.80 557.10)">0.4</text>
<line x1="32.10" y1="522.80" x2="36.4" y2="522.80" stroke="#555" stroke-width="0.8"/>
<text x="27.80" y="522.80" font-size="8.4" text-anchor="middle" fill="#222" transform="rotate(-90 27.80 522.80)">0.5</text>
<text x="14.10" y="609.85" font-size="8.3" text-anchor="middle" fill="#222" transform="rotate(-90 14.10 609.85)">Gene significance for&#160; YTHDF1</text>
<text x="138.40" y="728.80" font-size="8.4" text-anchor="middle" fill="#222">Module Membership in brown module</text>
<g fill="none" stroke="#bd564f" stroke-width="0.7"><circle cx="106.0" cy="585.9" r="2.5"/><circle cx="108.6" cy="590.6" r="2.5"/><circle cx="126.9" cy="590.0" r="2.5"/><circle cx="133.8" cy="591.7" r="2.5"/><circle cx="134.2" cy="596.8" r="2.5"/><circle cx="80.1" cy="603.4" r="2.5"/><circle cx="115.6" cy="608.9" r="2.5"/><circle cx="127.6" cy="608.9" r="2.5"/><circle cx="134.5" cy="607.5" r="2.5"/><circle cx="179.4" cy="524.6" r="2.5"/><circle cx="203.9" cy="545.1" r="2.5"/><circle cx="226.2" cy="543.2" r="2.5"/><circle cx="233.1" cy="554.1" r="2.5"/><circle cx="175.9" cy="550.6" r="2.5"/><circle cx="156.4" cy="562.4" r="2.5"/><circle cx="209.3" cy="570.6" r="2.5"/><circle cx="180.4" cy="577.5" r="2.5"/><circle cx="155.6" cy="583.0" r="2.5"/><circle cx="179.0" cy="588.2" r="2.5"/><circle cx="184.9" cy="596.5" r="2.5"/><circle cx="200.7" cy="594.4" r="2.5"/><circle cx="140.8" cy="591.4" r="2.5"/><circle cx="152.3" cy="599.5" r="2.5"/><circle cx="169.1" cy="600.4" r="2.5"/><circle cx="145.4" cy="604.5" r="2.5"/><circle cx="163.5" cy="605.1" r="2.5"/><circle cx="165.6" cy="604.1" r="2.5"/><circle cx="204.5" cy="605.1" r="2.5"/><circle cx="153.2" cy="608.9" r="2.5"/><circle cx="160.1" cy="608.9" r="2.5"/><circle cx="172.9" cy="608.2" r="2.5"/><circle cx="195.9" cy="608.6" r="2.5"/><circle cx="200.0" cy="608.9" r="2.5"/><circle cx="217.3" cy="610.0" r="2.5"/><circle cx="111.5" cy="612.2" r="2.5"/><circle cx="121.1" cy="614.3" r="2.5"/><circle cx="80.1" cy="619.1" r="2.5"/><circle cx="96.2" cy="623.2" r="2.5"/><circle cx="67.7" cy="629.4" r="2.5"/><circle cx="81.5" cy="633.5" r="2.5"/><circle cx="98.0" cy="633.3" r="2.5"/><circle cx="102.1" cy="631.5" r="2.5"/><circle cx="104.2" cy="632.2" r="2.5"/><circle cx="106.9" cy="632.2" r="2.5"/><circle cx="117.3" cy="627.3" r="2.5"/><circle cx="121.4" cy="625.3" r="2.5"/><circle cx="123.1" cy="622.5" r="2.5"/><circle cx="118.0" cy="634.2" r="2.5"/><circle cx="124.2" cy="635.2" r="2.5"/><circle cx="122.1" cy="638.6" r="2.5"/><circle cx="124.2" cy="639.3" r="2.5"/><circle cx="134.9" cy="636.6" r="2.5"/><circle cx="137.9" cy="634.2" r="2.5"/><circle cx="58.3" cy="640.4" r="2.5"/><circle cx="64.2" cy="643.9" r="2.5"/><circle cx="66.3" cy="648.4" r="2.5"/><circle cx="66.3" cy="653.5" r="2.5"/><circle cx="71.5" cy="642.1" r="2.5"/><circle cx="75.3" cy="644.3" r="2.5"/><circle cx="78.4" cy="647.6" r="2.5"/><circle cx="77.3" cy="653.5" r="2.5"/><circle cx="81.2" cy="652.1" r="2.5"/><circle cx="86.3" cy="653.5" r="2.5"/><circle cx="86.7" cy="644.8" r="2.5"/><circle cx="95.5" cy="642.9" r="2.5"/><circle cx="92.2" cy="654.2" r="2.5"/><circle cx="96.9" cy="655.3" r="2.5"/><circle cx="104.9" cy="649.4" r="2.5"/><circle cx="110.4" cy="652.8" r="2.5"/><circle cx="112.4" cy="654.2" r="2.5"/><circle cx="113.8" cy="654.5" r="2.5"/><circle cx="117.0" cy="644.6" r="2.5"/><circle cx="131.0" cy="653.5" r="2.5"/><circle cx="136.6" cy="650.8" r="2.5"/><circle cx="137.9" cy="649.4" r="2.5"/><circle cx="125.3" cy="661.1" r="2.5"/><circle cx="137.2" cy="661.1" r="2.5"/><circle cx="51.8" cy="668.4" r="2.5"/><circle cx="63.5" cy="668.7" r="2.5"/><circle cx="75.7" cy="667.7" r="2.5"/><circle cx="78.7" cy="663.6" r="2.5"/><circle cx="80.8" cy="665.9" r="2.5"/><circle cx="82.6" cy="663.6" r="2.5"/><circle cx="85.3" cy="667.3" r="2.5"/><circle cx="91.1" cy="668.0" r="2.5"/><circle cx="93.9" cy="665.9" r="2.5"/><circle cx="96.6" cy="670.0" r="2.5"/><circle cx="90.4" cy="672.4" r="2.5"/><circle cx="95.2" cy="673.8" r="2.5"/><circle cx="106.2" cy="661.8" r="2.5"/><circle cx="111.1" cy="663.2" r="2.5"/><circle cx="105.6" cy="667.3" r="2.5"/><circle cx="109.0" cy="664.5" r="2.5"/><circle cx="116.6" cy="672.4" r="2.5"/><circle cx="115.6" cy="676.2" r="2.5"/><circle cx="111.1" cy="677.3" r="2.5"/><circle cx="129.7" cy="671.0" r="2.5"/><circle cx="43.6" cy="680.7" r="2.5"/><circle cx="47.3" cy="683.8" r="2.5"/><circle cx="65.6" cy="679.3" r="2.5"/><circle cx="67.7" cy="679.3" r="2.5"/><circle cx="64.2" cy="688.4" r="2.5"/><circle cx="81.2" cy="675.6" r="2.5"/><circle cx="83.5" cy="677.6" r="2.5"/><circle cx="82.8" cy="680.4" r="2.5"/><circle cx="89.0" cy="681.8" r="2.5"/><circle cx="95.9" cy="680.4" r="2.5"/><circle cx="95.2" cy="676.9" r="2.5"/><circle cx="102.8" cy="682.4" r="2.5"/><circle cx="103.5" cy="684.5" r="2.5"/><circle cx="92.2" cy="687.0" r="2.5"/><circle cx="96.3" cy="688.4" r="2.5"/><circle cx="87.0" cy="693.1" r="2.5"/><circle cx="109.3" cy="688.4" r="2.5"/><circle cx="112.9" cy="694.2" r="2.5"/><circle cx="117.5" cy="692.5" r="2.5"/><circle cx="122.1" cy="694.2" r="2.5"/><circle cx="126.2" cy="688.9" r="2.5"/><circle cx="129.7" cy="683.4" r="2.5"/><circle cx="129.7" cy="692.8" r="2.5"/><circle cx="132.4" cy="690.7" r="2.5"/><circle cx="136.3" cy="687.3" r="2.5"/><circle cx="137.9" cy="688.4" r="2.5"/><circle cx="204.9" cy="606.7" r="2.5"/><circle cx="186.7" cy="617.3" r="2.5"/><circle cx="192.2" cy="624.2" r="2.5"/><circle cx="187.2" cy="626.9" r="2.5"/><circle cx="183.1" cy="633.3" r="2.5"/><circle cx="166.6" cy="630.4" r="2.5"/><circle cx="207.9" cy="628.0" r="2.5"/><circle cx="213.4" cy="629.4" r="2.5"/><circle cx="216.6" cy="623.9" r="2.5"/><circle cx="142.2" cy="620.5" r="2.5"/><circle cx="141.5" cy="626.4" r="2.5"/><circle cx="140.8" cy="630.5" r="2.5"/><circle cx="140.4" cy="656.3" r="2.5"/><circle cx="143.6" cy="661.4" r="2.5"/><circle cx="175.3" cy="650.4" r="2.5"/><circle cx="170.4" cy="656.7" r="2.5"/><circle cx="193.2" cy="657.0" r="2.5"/><circle cx="218.0" cy="649.4" r="2.5"/><circle cx="171.5" cy="670.5" r="2.5"/><circle cx="171.5" cy="674.2" r="2.5"/><circle cx="181.5" cy="672.1" r="2.5"/><circle cx="186.7" cy="676.2" r="2.5"/><circle cx="168.4" cy="680.0" r="2.5"/><circle cx="177.3" cy="682.2" r="2.5"/><circle cx="210.4" cy="673.5" r="2.5"/><circle cx="213.4" cy="674.2" r="2.5"/><circle cx="144.5" cy="680.1" r="2.5"/><circle cx="178.4" cy="693.5" r="2.5"/></g>
<text x="260.20" y="500.00" font-size="13.8" text-anchor="start" font-weight="bold" fill="#000">G</text>
<text x="388.05" y="501.90" font-size="9" text-anchor="middle" fill="#222">Module membership vs. gene significance</text>
<text x="388.05" y="512.20" font-size="9" text-anchor="middle" fill="#222">cor=0.56, p=4.3e−14</text>
<rect x="285.8" y="518.4" width="204.50" height="182.90" fill="none" stroke="#777" stroke-width="0.9"/>
<line x1="289.40" y1="701.3" x2="289.40" y2="704.60" stroke="#555" stroke-width="0.8"/>
<text x="289.40" y="715.20" font-size="8.4" text-anchor="middle" fill="#222">0.0</text>
<line x1="319.20" y1="701.3" x2="319.20" y2="704.60" stroke="#555" stroke-width="0.8"/>
<text x="319.20" y="715.20" font-size="8.4" text-anchor="middle" fill="#222">0.1</text>
<line x1="349.00" y1="701.3" x2="349.00" y2="704.60" stroke="#555" stroke-width="0.8"/>
<text x="349.00" y="715.20" font-size="8.4" text-anchor="middle" fill="#222">0.2</text>
<line x1="378.80" y1="701.3" x2="378.80" y2="704.60" stroke="#555" stroke-width="0.8"/>
<text x="378.80" y="715.20" font-size="8.4" text-anchor="middle" fill="#222">0.3</text>
<line x1="408.60" y1="701.3" x2="408.60" y2="704.60" stroke="#555" stroke-width="0.8"/>
<text x="408.60" y="715.20" font-size="8.4" text-anchor="middle" fill="#222">0.4</text>
<line x1="438.40" y1="701.3" x2="438.40" y2="704.60" stroke="#555" stroke-width="0.8"/>
<text x="438.40" y="715.20" font-size="8.4" text-anchor="middle" fill="#222">0.5</text>
<line x1="468.20" y1="701.3" x2="468.20" y2="704.60" stroke="#555" stroke-width="0.8"/>
<text x="468.20" y="715.20" font-size="8.4" text-anchor="middle" fill="#222">0.6</text>
<line x1="281.50" y1="695.30" x2="285.8" y2="695.30" stroke="#555" stroke-width="0.8"/>
<text x="277.20" y="695.30" font-size="8.4" text-anchor="middle" fill="#222" transform="rotate(-90 277.20 695.30)">0.0</text>
<line x1="281.50" y1="650.70" x2="285.8" y2="650.70" stroke="#555" stroke-width="0.8"/>
<text x="277.20" y="650.70" font-size="8.4" text-anchor="middle" fill="#222" transform="rotate(-90 277.20 650.70)">0.1</text>
<line x1="281.50" y1="606.10" x2="285.8" y2="606.10" stroke="#555" stroke-width="0.8"/>
<text x="277.20" y="606.10" font-size="8.4" text-anchor="middle" fill="#222" transform="rotate(-90 277.20 606.10)">0.2</text>
<line x1="281.50" y1="561.50" x2="285.8" y2="561.50" stroke="#555" stroke-width="0.8"/>
<text x="277.20" y="561.50" font-size="8.4" text-anchor="middle" fill="#222" transform="rotate(-90 277.20 561.50)">0.3</text>
<text x="263.50" y="609.85" font-size="8.3" text-anchor="middle" fill="#222" transform="rotate(-90 263.50 609.85)">Gene significance for&#160; ALKBH5</text>
<text x="388.05" y="728.80" font-size="8.4" text-anchor="middle" fill="#222">Module Membership in brown module</text>
<g fill="none" stroke="#bd564f" stroke-width="0.7"><circle cx="359.4" cy="567.2" r="2.5"/><circle cx="361.3" cy="581.1" r="2.5"/><circle cx="384.1" cy="580.7" r="2.5"/><circle cx="356.5" cy="592.4" r="2.5"/><circle cx="387.2" cy="602.3" r="2.5"/><circle cx="384.1" cy="606.2" r="2.5"/><circle cx="387.9" cy="607.3" r="2.5"/><circle cx="365.5" cy="607.5" r="2.5"/><circle cx="376.9" cy="608.9" r="2.5"/><circle cx="429.0" cy="524.6" r="2.5"/><circle cx="428.4" cy="539.8" r="2.5"/><circle cx="466.3" cy="558.4" r="2.5"/><circle cx="395.4" cy="580.0" r="2.5"/><circle cx="405.3" cy="575.9" r="2.5"/><circle cx="425.3" cy="576.8" r="2.5"/><circle cx="436.3" cy="574.2" r="2.5"/><circle cx="450.3" cy="578.3" r="2.5"/><circle cx="422.2" cy="589.9" r="2.5"/><circle cx="441.4" cy="591.3" r="2.5"/><circle cx="460.4" cy="594.2" r="2.5"/><circle cx="402.5" cy="601.1" r="2.5"/><circle cx="418.4" cy="598.3" r="2.5"/><circle cx="414.9" cy="602.7" r="2.5"/><circle cx="432.6" cy="597.6" r="2.5"/><circle cx="475.5" cy="605.1" r="2.5"/><circle cx="390.1" cy="607.8" r="2.5"/><circle cx="406.0" cy="608.9" r="2.5"/><circle cx="430.1" cy="608.6" r="2.5"/><circle cx="442.5" cy="610.0" r="2.5"/><circle cx="466.2" cy="608.6" r="2.5"/><circle cx="387.2" cy="610.8" r="2.5"/><circle cx="358.3" cy="614.3" r="2.5"/><circle cx="376.2" cy="618.7" r="2.5"/><circle cx="386.6" cy="616.7" r="2.5"/><circle cx="388.6" cy="618.1" r="2.5"/><circle cx="362.9" cy="625.3" r="2.5"/><circle cx="329.8" cy="621.8" r="2.5"/><circle cx="330.4" cy="627.8" r="2.5"/><circle cx="334.9" cy="629.4" r="2.5"/><circle cx="331.2" cy="633.3" r="2.5"/><circle cx="321.1" cy="630.5" r="2.5"/><circle cx="307.8" cy="636.3" r="2.5"/><circle cx="293.6" cy="642.5" r="2.5"/><circle cx="301.4" cy="643.2" r="2.5"/><circle cx="346.3" cy="631.5" r="2.5"/><circle cx="345.9" cy="637.4" r="2.5"/><circle cx="339.0" cy="639.3" r="2.5"/><circle cx="341.8" cy="639.1" r="2.5"/><circle cx="336.7" cy="645.3" r="2.5"/><circle cx="352.8" cy="643.2" r="2.5"/><circle cx="356.2" cy="642.9" r="2.5"/><circle cx="364.5" cy="645.3" r="2.5"/><circle cx="370.7" cy="635.6" r="2.5"/><circle cx="372.8" cy="639.1" r="2.5"/><circle cx="373.5" cy="639.7" r="2.5"/><circle cx="379.7" cy="629.7" r="2.5"/><circle cx="383.1" cy="630.1" r="2.5"/><circle cx="385.9" cy="629.4" r="2.5"/><circle cx="375.5" cy="646.6" r="2.5"/><circle cx="374.8" cy="650.4" r="2.5"/><circle cx="367.3" cy="651.2" r="2.5"/><circle cx="368.0" cy="654.5" r="2.5"/><circle cx="362.4" cy="654.2" r="2.5"/><circle cx="359.0" cy="657.7" r="2.5"/><circle cx="353.2" cy="657.7" r="2.5"/><circle cx="373.5" cy="657.2" r="2.5"/><circle cx="324.8" cy="649.4" r="2.5"/><circle cx="330.4" cy="648.4" r="2.5"/><circle cx="331.2" cy="655.3" r="2.5"/><circle cx="341.8" cy="649.8" r="2.5"/><circle cx="343.6" cy="651.5" r="2.5"/><circle cx="348.0" cy="651.2" r="2.5"/><circle cx="341.8" cy="659.0" r="2.5"/><circle cx="345.0" cy="661.4" r="2.5"/><circle cx="315.2" cy="665.9" r="2.5"/><circle cx="327.0" cy="665.9" r="2.5"/><circle cx="328.7" cy="667.3" r="2.5"/><circle cx="330.8" cy="668.0" r="2.5"/><circle cx="316.3" cy="672.8" r="2.5"/><circle cx="314.2" cy="675.6" r="2.5"/><circle cx="317.7" cy="678.3" r="2.5"/><circle cx="316.0" cy="682.4" r="2.5"/><circle cx="313.5" cy="685.9" r="2.5"/><circle cx="317.4" cy="688.6" r="2.5"/><circle cx="314.2" cy="693.1" r="2.5"/><circle cx="297.0" cy="692.5" r="2.5"/><circle cx="325.3" cy="677.3" r="2.5"/><circle cx="331.5" cy="674.9" r="2.5"/><circle cx="332.6" cy="674.2" r="2.5"/><circle cx="330.8" cy="676.5" r="2.5"/><circle cx="327.3" cy="685.6" r="2.5"/><circle cx="332.6" cy="681.8" r="2.5"/><circle cx="336.3" cy="682.0" r="2.5"/><circle cx="334.2" cy="685.9" r="2.5"/><circle cx="336.3" cy="687.0" r="2.5"/><circle cx="333.9" cy="689.3" r="2.5"/><circle cx="340.0" cy="672.1" r="2.5"/><circle cx="344.5" cy="669.6" r="2.5"/><circle cx="345.5" cy="677.3" r="2.5"/><circle cx="346.3" cy="677.6" r="2.5"/><circle cx="351.8" cy="674.2" r="2.5"/><circle cx="354.2" cy="672.4" r="2.5"/><circle cx="358.3" cy="663.9" r="2.5"/><circle cx="361.1" cy="666.3" r="2.5"/><circle cx="366.6" cy="667.7" r="2.5"/><circle cx="360.7" cy="683.1" r="2.5"/><circle cx="366.2" cy="677.3" r="2.5"/><circle cx="370.0" cy="677.6" r="2.5"/><circle cx="371.4" cy="679.7" r="2.5"/><circle cx="379.7" cy="670.0" r="2.5"/><circle cx="379.4" cy="677.3" r="2.5"/><circle cx="384.1" cy="676.5" r="2.5"/><circle cx="385.9" cy="680.4" r="2.5"/><circle cx="380.8" cy="684.8" r="2.5"/><circle cx="382.4" cy="686.2" r="2.5"/><circle cx="386.6" cy="685.6" r="2.5"/><circle cx="355.6" cy="688.4" r="2.5"/><circle cx="355.6" cy="692.5" r="2.5"/><circle cx="351.8" cy="693.1" r="2.5"/><circle cx="345.2" cy="693.1" r="2.5"/><circle cx="346.3" cy="694.2" r="2.5"/><circle cx="361.5" cy="691.7" r="2.5"/><circle cx="367.3" cy="693.9" r="2.5"/><circle cx="437.0" cy="613.2" r="2.5"/><circle cx="482.4" cy="613.6" r="2.5"/><circle cx="391.2" cy="619.1" r="2.5"/><circle cx="401.4" cy="620.5" r="2.5"/><circle cx="409.7" cy="620.5" r="2.5"/><circle cx="419.7" cy="618.4" r="2.5"/><circle cx="425.3" cy="618.4" r="2.5"/><circle cx="431.2" cy="621.4" r="2.5"/><circle cx="434.5" cy="622.3" r="2.5"/><circle cx="453.5" cy="620.0" r="2.5"/><circle cx="459.0" cy="619.5" r="2.5"/><circle cx="462.9" cy="615.9" r="2.5"/><circle cx="467.5" cy="620.2" r="2.5"/><circle cx="421.1" cy="628.3" r="2.5"/><circle cx="428.4" cy="630.1" r="2.5"/><circle cx="436.6" cy="628.7" r="2.5"/><circle cx="462.9" cy="632.2" r="2.5"/><circle cx="454.5" cy="638.8" r="2.5"/><circle cx="457.6" cy="637.7" r="2.5"/><circle cx="450.3" cy="642.9" r="2.5"/><circle cx="445.5" cy="648.4" r="2.5"/><circle cx="412.9" cy="639.3" r="2.5"/><circle cx="394.3" cy="648.3" r="2.5"/><circle cx="391.5" cy="655.3" r="2.5"/><circle cx="389.9" cy="663.2" r="2.5"/><circle cx="393.6" cy="662.7" r="2.5"/><circle cx="390.4" cy="670.7" r="2.5"/><circle cx="416.3" cy="652.8" r="2.5"/><circle cx="418.4" cy="658.8" r="2.5"/><circle cx="421.1" cy="665.9" r="2.5"/><circle cx="427.3" cy="680.4" r="2.5"/><circle cx="403.2" cy="692.5" r="2.5"/></g>
<text x="501.20" y="499.80" font-size="13.8" text-anchor="start" font-weight="bold" fill="#000">H</text>
<text x="639.55" y="501.90" font-size="9" text-anchor="middle" fill="#222">Module membership vs. gene significance</text>
<text x="639.55" y="512.20" font-size="9" text-anchor="middle" fill="#222">cor=0.73, p=2.2e−39</text>
<rect x="537.3" y="518.4" width="204.50" height="182.90" fill="none" stroke="#777" stroke-width="0.9"/>
<line x1="542.70" y1="701.3" x2="542.70" y2="704.60" stroke="#555" stroke-width="0.8"/>
<text x="542.70" y="715.20" font-size="8.4" text-anchor="middle" fill="#222">0.0</text>
<line x1="584.50" y1="701.3" x2="584.50" y2="704.60" stroke="#555" stroke-width="0.8"/>
<text x="584.50" y="715.20" font-size="8.4" text-anchor="middle" fill="#222">0.2</text>
<line x1="626.30" y1="701.3" x2="626.30" y2="704.60" stroke="#555" stroke-width="0.8"/>
<text x="626.30" y="715.20" font-size="8.4" text-anchor="middle" fill="#222">0.4</text>
<line x1="668.10" y1="701.3" x2="668.10" y2="704.60" stroke="#555" stroke-width="0.8"/>
<text x="668.10" y="715.20" font-size="8.4" text-anchor="middle" fill="#222">0.6</text>
<line x1="709.90" y1="701.3" x2="709.90" y2="704.60" stroke="#555" stroke-width="0.8"/>
<text x="709.90" y="715.20" font-size="8.4" text-anchor="middle" fill="#222">0.8</text>
<line x1="533.00" y1="694.30" x2="537.3" y2="694.30" stroke="#555" stroke-width="0.8"/>
<text x="528.70" y="694.30" font-size="8.4" text-anchor="middle" fill="#222" transform="rotate(-90 528.70 694.30)">0.0</text>
<line x1="533.00" y1="659.30" x2="537.3" y2="659.30" stroke="#555" stroke-width="0.8"/>
<text x="528.70" y="659.30" font-size="8.4" text-anchor="middle" fill="#222" transform="rotate(-90 528.70 659.30)">0.1</text>
<line x1="533.00" y1="624.30" x2="537.3" y2="624.30" stroke="#555" stroke-width="0.8"/>
<text x="528.70" y="624.30" font-size="8.4" text-anchor="middle" fill="#222" transform="rotate(-90 528.70 624.30)">0.2</text>
<line x1="533.00" y1="589.30" x2="537.3" y2="589.30" stroke="#555" stroke-width="0.8"/>
<text x="528.70" y="589.30" font-size="8.4" text-anchor="middle" fill="#222" transform="rotate(-90 528.70 589.30)">0.3</text>
<line x1="533.00" y1="554.30" x2="537.3" y2="554.30" stroke="#555" stroke-width="0.8"/>
<text x="528.70" y="554.30" font-size="8.4" text-anchor="middle" fill="#222" transform="rotate(-90 528.70 554.30)">0.4</text>
<line x1="533.00" y1="519.30" x2="537.3" y2="519.30" stroke="#555" stroke-width="0.8"/>
<text x="528.70" y="519.30" font-size="8.4" text-anchor="middle" fill="#222" transform="rotate(-90 528.70 519.30)">0.5</text>
<text x="515.00" y="609.85" font-size="8.3" text-anchor="middle" fill="#222" transform="rotate(-90 515.00 609.85)">Gene significance for&#160; FTO</text>
<text x="639.55" y="728.80" font-size="8.4" text-anchor="middle" fill="#222">Module Membership in turquoise module</text>
<g fill="none" stroke="#68c4bf" stroke-width="0.7"><circle cx="564.5" cy="581.4" r="2.5"/><circle cx="620.1" cy="578.2" r="2.5"/><circle cx="631.4" cy="586.9" r="2.5"/><circle cx="608.2" cy="595.1" r="2.5"/><circle cx="638.2" cy="601.3" r="2.5"/><circle cx="603.1" cy="609.2" r="2.5"/><circle cx="630.0" cy="609.6" r="2.5"/><circle cx="710.0" cy="525.2" r="2.5"/><circle cx="721.7" cy="552.4" r="2.5"/><circle cx="733.7" cy="559.3" r="2.5"/><circle cx="723.1" cy="570.6" r="2.5"/><circle cx="725.2" cy="574.5" r="2.5"/><circle cx="726.5" cy="576.5" r="2.5"/><circle cx="720.3" cy="585.5" r="2.5"/><circle cx="721.7" cy="588.2" r="2.5"/><circle cx="677.4" cy="572.4" r="2.5"/><circle cx="688.9" cy="576.1" r="2.5"/><circle cx="668.4" cy="578.2" r="2.5"/><circle cx="668.7" cy="585.2" r="2.5"/><circle cx="668.4" cy="592.4" r="2.5"/><circle cx="661.1" cy="587.3" r="2.5"/><circle cx="657.4" cy="593.3" r="2.5"/><circle cx="656.3" cy="598.2" r="2.5"/><circle cx="653.5" cy="605.1" r="2.5"/><circle cx="670.7" cy="602.0" r="2.5"/><circle cx="681.1" cy="597.2" r="2.5"/><circle cx="686.6" cy="591.4" r="2.5"/><circle cx="691.4" cy="594.4" r="2.5"/><circle cx="693.2" cy="583.7" r="2.5"/><circle cx="693.5" cy="589.2" r="2.5"/><circle cx="705.2" cy="579.6" r="2.5"/><circle cx="712.8" cy="595.8" r="2.5"/><circle cx="708.9" cy="599.0" r="2.5"/><circle cx="703.1" cy="600.0" r="2.5"/><circle cx="708.3" cy="604.1" r="2.5"/><circle cx="679.4" cy="604.5" r="2.5"/><circle cx="690.0" cy="602.3" r="2.5"/><circle cx="692.1" cy="604.5" r="2.5"/><circle cx="686.6" cy="607.3" r="2.5"/><circle cx="694.9" cy="607.5" r="2.5"/><circle cx="564.0" cy="614.1" r="2.5"/><circle cx="570.0" cy="613.0" r="2.5"/><circle cx="571.4" cy="612.2" r="2.5"/><circle cx="575.5" cy="617.2" r="2.5"/><circle cx="582.5" cy="617.9" r="2.5"/><circle cx="588.2" cy="614.3" r="2.5"/><circle cx="550.0" cy="623.2" r="2.5"/><circle cx="547.5" cy="626.4" r="2.5"/><circle cx="551.4" cy="626.7" r="2.5"/><circle cx="551.0" cy="629.2" r="2.5"/><circle cx="565.8" cy="626.0" r="2.5"/><circle cx="564.7" cy="629.5" r="2.5"/><circle cx="574.2" cy="627.4" r="2.5"/><circle cx="575.6" cy="629.2" r="2.5"/><circle cx="578.8" cy="626.0" r="2.5"/><circle cx="582.3" cy="630.9" r="2.5"/><circle cx="584.4" cy="634.8" r="2.5"/><circle cx="575.3" cy="634.4" r="2.5"/><circle cx="562.6" cy="637.2" r="2.5"/><circle cx="571.0" cy="638.3" r="2.5"/><circle cx="567.9" cy="641.8" r="2.5"/><circle cx="565.4" cy="644.6" r="2.5"/><circle cx="572.5" cy="645.7" r="2.5"/><circle cx="580.2" cy="641.1" r="2.5"/><circle cx="556.3" cy="647.8" r="2.5"/><circle cx="557.0" cy="653.7" r="2.5"/><circle cx="567.2" cy="650.2" r="2.5"/><circle cx="570.3" cy="653.7" r="2.5"/><circle cx="584.0" cy="652.3" r="2.5"/><circle cx="581.9" cy="654.4" r="2.5"/><circle cx="549.3" cy="655.8" r="2.5"/><circle cx="595.4" cy="614.3" r="2.5"/><circle cx="609.4" cy="617.6" r="2.5"/><circle cx="615.4" cy="615.1" r="2.5"/><circle cx="618.5" cy="617.6" r="2.5"/><circle cx="620.3" cy="617.2" r="2.5"/><circle cx="622.7" cy="620.4" r="2.5"/><circle cx="627.3" cy="622.5" r="2.5"/><circle cx="632.6" cy="621.8" r="2.5"/><circle cx="626.3" cy="626.4" r="2.5"/><circle cx="629.4" cy="629.9" r="2.5"/><circle cx="637.5" cy="612.0" r="2.5"/><circle cx="640.3" cy="621.1" r="2.5"/><circle cx="640.3" cy="625.0" r="2.5"/><circle cx="640.3" cy="628.8" r="2.5"/><circle cx="601.3" cy="626.0" r="2.5"/><circle cx="595.4" cy="634.4" r="2.5"/><circle cx="612.6" cy="634.1" r="2.5"/><circle cx="616.1" cy="634.1" r="2.5"/><circle cx="618.2" cy="632.7" r="2.5"/><circle cx="620.6" cy="633.7" r="2.5"/><circle cx="608.4" cy="640.4" r="2.5"/><circle cx="604.5" cy="644.3" r="2.5"/><circle cx="610.5" cy="645.0" r="2.5"/><circle cx="606.6" cy="647.8" r="2.5"/><circle cx="618.2" cy="640.4" r="2.5"/><circle cx="632.6" cy="636.9" r="2.5"/><circle cx="632.6" cy="640.4" r="2.5"/><circle cx="635.7" cy="641.1" r="2.5"/><circle cx="638.2" cy="636.9" r="2.5"/><circle cx="632.9" cy="649.9" r="2.5"/><circle cx="625.6" cy="653.4" r="2.5"/><circle cx="624.5" cy="655.1" r="2.5"/><circle cx="598.5" cy="654.4" r="2.5"/><circle cx="640.3" cy="654.4" r="2.5"/><circle cx="544.7" cy="661.1" r="2.5"/><circle cx="552.1" cy="661.1" r="2.5"/><circle cx="556.7" cy="658.3" r="2.5"/><circle cx="556.7" cy="661.1" r="2.5"/><circle cx="560.9" cy="660.8" r="2.5"/><circle cx="563.3" cy="660.8" r="2.5"/><circle cx="562.3" cy="659.7" r="2.5"/><circle cx="570.0" cy="656.2" r="2.5"/><circle cx="570.3" cy="658.0" r="2.5"/><circle cx="573.5" cy="659.4" r="2.5"/><circle cx="576.7" cy="658.3" r="2.5"/><circle cx="583.3" cy="656.2" r="2.5"/><circle cx="551.0" cy="667.1" r="2.5"/><circle cx="551.7" cy="669.6" r="2.5"/><circle cx="561.6" cy="667.8" r="2.5"/><circle cx="565.1" cy="667.1" r="2.5"/><circle cx="566.8" cy="669.6" r="2.5"/><circle cx="545.4" cy="674.1" r="2.5"/><circle cx="546.5" cy="676.9" r="2.5"/><circle cx="556.7" cy="673.4" r="2.5"/><circle cx="557.4" cy="676.2" r="2.5"/><circle cx="560.9" cy="674.5" r="2.5"/><circle cx="560.2" cy="677.3" r="2.5"/><circle cx="560.9" cy="679.0" r="2.5"/><circle cx="555.3" cy="681.5" r="2.5"/><circle cx="558.1" cy="681.8" r="2.5"/><circle cx="561.2" cy="683.9" r="2.5"/><circle cx="565.8" cy="680.4" r="2.5"/><circle cx="568.6" cy="682.2" r="2.5"/><circle cx="570.0" cy="684.3" r="2.5"/><circle cx="573.5" cy="684.3" r="2.5"/><circle cx="548.6" cy="687.1" r="2.5"/><circle cx="551.0" cy="687.1" r="2.5"/><circle cx="555.3" cy="689.9" r="2.5"/><circle cx="558.8" cy="688.5" r="2.5"/><circle cx="562.6" cy="687.5" r="2.5"/><circle cx="560.2" cy="692.7" r="2.5"/><circle cx="563.7" cy="691.3" r="2.5"/><circle cx="567.9" cy="688.5" r="2.5"/><circle cx="570.7" cy="687.1" r="2.5"/><circle cx="572.1" cy="691.0" r="2.5"/><circle cx="573.5" cy="692.4" r="2.5"/><circle cx="544.4" cy="694.1" r="2.5"/><circle cx="550.7" cy="694.5" r="2.5"/><circle cx="553.8" cy="694.1" r="2.5"/><circle cx="573.2" cy="672.4" r="2.5"/><circle cx="574.2" cy="676.2" r="2.5"/><circle cx="577.7" cy="678.3" r="2.5"/><circle cx="579.8" cy="680.8" r="2.5"/><circle cx="582.3" cy="682.2" r="2.5"/><circle cx="586.1" cy="682.2" r="2.5"/><circle cx="586.8" cy="687.8" r="2.5"/><circle cx="580.9" cy="688.5" r="2.5"/><circle cx="581.9" cy="694.1" r="2.5"/><circle cx="579.1" cy="669.6" r="2.5"/><circle cx="581.9" cy="664.6" r="2.5"/><circle cx="585.4" cy="670.6" r="2.5"/><circle cx="587.5" cy="663.2" r="2.5"/><circle cx="588.9" cy="659.7" r="2.5"/><circle cx="589.3" cy="675.2" r="2.5"/><circle cx="589.3" cy="692.0" r="2.5"/><circle cx="594.7" cy="658.3" r="2.5"/><circle cx="592.6" cy="659.7" r="2.5"/><circle cx="591.5" cy="663.6" r="2.5"/><circle cx="589.4" cy="669.2" r="2.5"/><circle cx="604.8" cy="660.8" r="2.5"/><circle cx="615.7" cy="660.4" r="2.5"/><circle cx="617.5" cy="667.1" r="2.5"/><circle cx="620.3" cy="665.3" r="2.5"/><circle cx="640.3" cy="656.2" r="2.5"/><circle cx="598.5" cy="675.5" r="2.5"/><circle cx="595.7" cy="678.3" r="2.5"/><circle cx="597.5" cy="681.5" r="2.5"/><circle cx="595.7" cy="684.6" r="2.5"/><circle cx="611.9" cy="680.4" r="2.5"/><circle cx="610.8" cy="685.7" r="2.5"/><circle cx="620.3" cy="677.3" r="2.5"/><circle cx="626.3" cy="682.2" r="2.5"/><circle cx="633.3" cy="675.2" r="2.5"/><circle cx="591.5" cy="692.4" r="2.5"/><circle cx="603.1" cy="691.7" r="2.5"/><circle cx="679.0" cy="610.1" r="2.5"/><circle cx="645.3" cy="615.4" r="2.5"/><circle cx="649.1" cy="616.3" r="2.5"/><circle cx="654.6" cy="615.4" r="2.5"/><circle cx="651.0" cy="620.5" r="2.5"/><circle cx="643.6" cy="629.1" r="2.5"/><circle cx="661.1" cy="623.2" r="2.5"/><circle cx="665.9" cy="613.2" r="2.5"/><circle cx="670.1" cy="619.8" r="2.5"/><circle cx="670.1" cy="624.6" r="2.5"/><circle cx="683.1" cy="621.2" r="2.5"/><circle cx="685.5" cy="617.3" r="2.5"/><circle cx="699.3" cy="613.2" r="2.5"/><circle cx="700.4" cy="617.7" r="2.5"/><circle cx="701.5" cy="621.2" r="2.5"/><circle cx="702.4" cy="626.4" r="2.5"/><circle cx="676.3" cy="631.5" r="2.5"/><circle cx="671.4" cy="634.2" r="2.5"/><circle cx="663.9" cy="636.0" r="2.5"/><circle cx="672.1" cy="641.5" r="2.5"/><circle cx="676.7" cy="641.5" r="2.5"/><circle cx="689.3" cy="632.2" r="2.5"/><circle cx="692.1" cy="631.5" r="2.5"/><circle cx="658.3" cy="682.0" r="2.5"/></g>
</svg></body></html>
